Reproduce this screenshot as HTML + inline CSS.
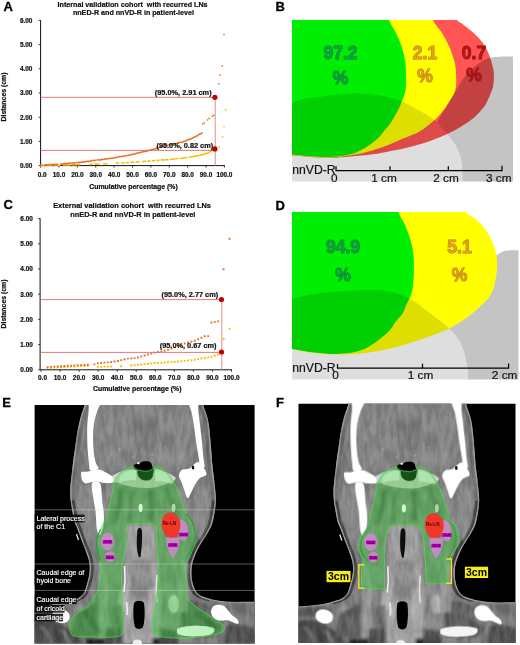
<!DOCTYPE html>
<html lang="en"><head><meta charset="utf-8"><title>Figure</title>
<style>
html,body{margin:0;padding:0;background:#fff;}
body{width:520px;height:645px;overflow:hidden;font-family:"Liberation Sans",sans-serif;}
svg{display:block}
text{font-family:"Liberation Sans",sans-serif;}
.b{font-weight:700}
.pl{font-weight:700;font-size:13px;fill:#000;stroke:#000;stroke-width:.3px}
.tk{font-weight:700;font-size:6.4px;fill:#111;stroke:#111;stroke-width:.22px}
.tt{font-weight:700;font-size:7.15px;fill:#111;stroke:#111;stroke-width:.2px}
.ax{font-weight:700;font-size:6.9px;fill:#111;stroke:#111;stroke-width:.22px}
.an{font-weight:700;font-size:7.35px;fill:#111;stroke:#111;stroke-width:.22px}
.sc{font-size:11.8px;fill:#111;stroke:#111;stroke-width:.18px}
.ct{font-size:7.05px;fill:#fff;stroke:#fff;stroke-width:.15px}
</style></head><body>
<svg width="520" height="645" viewBox="0 0 520 645">
<rect width="520" height="645" fill="#fff"/>

<g>
<text class="pl" x="3.5" y="10.8">A</text>
<text class="tt" style="font-size:7.15px" x="132.6" y="7.2" text-anchor="middle" xml:space="preserve">Internal validation cohort  with recurred LNs</text>
<text class="tt" style="font-size:7.15px" x="133.4" y="15.2" text-anchor="middle">nnED-R and nnVD-R in patient-level</text>
<path d="M40.6,20.100000000000005 V165.6 H224.89999999999998" fill="none" stroke="#111" stroke-width="1"/>
<path d="M38.6,165.60 H40.6" stroke="#111" stroke-width="0.8"/>
<text class="tk" x="32.400000000000006" y="167.90" text-anchor="end">0.00</text>
<path d="M38.6,141.40 H40.6" stroke="#111" stroke-width="0.8"/>
<text class="tk" x="32.400000000000006" y="143.70" text-anchor="end">1.00</text>
<path d="M38.6,117.20 H40.6" stroke="#111" stroke-width="0.8"/>
<text class="tk" x="32.400000000000006" y="119.50" text-anchor="end">2.00</text>
<path d="M38.6,93.00 H40.6" stroke="#111" stroke-width="0.8"/>
<text class="tk" x="32.400000000000006" y="95.30" text-anchor="end">3.00</text>
<path d="M38.6,68.80 H40.6" stroke="#111" stroke-width="0.8"/>
<text class="tk" x="32.400000000000006" y="71.10" text-anchor="end">4.00</text>
<path d="M38.6,44.60 H40.6" stroke="#111" stroke-width="0.8"/>
<text class="tk" x="32.400000000000006" y="46.90" text-anchor="end">5.00</text>
<path d="M38.6,20.40 H40.6" stroke="#111" stroke-width="0.8"/>
<text class="tk" x="32.400000000000006" y="22.70" text-anchor="end">6.00</text>
<path d="M40.60,165.6 V167.6" stroke="#111" stroke-width="0.8"/>
<text class="tk" x="42.10" y="176.9" text-anchor="middle">0.0</text>
<path d="M58.98,165.6 V167.6" stroke="#111" stroke-width="0.8"/>
<text class="tk" x="58.98" y="176.9" text-anchor="middle">10.0</text>
<path d="M77.36,165.6 V167.6" stroke="#111" stroke-width="0.8"/>
<text class="tk" x="77.36" y="176.9" text-anchor="middle">20.0</text>
<path d="M95.74,165.6 V167.6" stroke="#111" stroke-width="0.8"/>
<text class="tk" x="95.74" y="176.9" text-anchor="middle">30.0</text>
<path d="M114.12,165.6 V167.6" stroke="#111" stroke-width="0.8"/>
<text class="tk" x="114.12" y="176.9" text-anchor="middle">40.0</text>
<path d="M132.50,165.6 V167.6" stroke="#111" stroke-width="0.8"/>
<text class="tk" x="132.50" y="176.9" text-anchor="middle">50.0</text>
<path d="M150.88,165.6 V167.6" stroke="#111" stroke-width="0.8"/>
<text class="tk" x="150.88" y="176.9" text-anchor="middle">60.0</text>
<path d="M169.26,165.6 V167.6" stroke="#111" stroke-width="0.8"/>
<text class="tk" x="169.26" y="176.9" text-anchor="middle">70.0</text>
<path d="M187.64,165.6 V167.6" stroke="#111" stroke-width="0.8"/>
<text class="tk" x="187.64" y="176.9" text-anchor="middle">80.0</text>
<path d="M206.02,165.6 V167.6" stroke="#111" stroke-width="0.8"/>
<text class="tk" x="206.02" y="176.9" text-anchor="middle">90.0</text>
<path d="M224.40,165.6 V167.6" stroke="#111" stroke-width="0.8"/>
<text class="tk" x="224.40" y="176.9" text-anchor="middle">100.0</text>
<text class="ax" x="133.5" y="188.8" text-anchor="middle">Cumulative percentage (%)</text>
<text class="ax" transform="translate(6.4,97) rotate(-90)" text-anchor="middle">Distances (cm)</text>
<path d="M40.25,164.71h1.5v1.5h-1.5zM41.15,164.68h1.5v1.5h-1.5zM42.05,164.73h1.5v1.5h-1.5zM42.95,164.70h1.5v1.5h-1.5zM46.55,164.73h1.5v1.5h-1.5zM47.45,164.79h1.5v1.5h-1.5zM48.35,164.61h1.5v1.5h-1.5zM49.25,164.73h1.5v1.5h-1.5zM50.15,164.72h1.5v1.5h-1.5zM51.05,164.69h1.5v1.5h-1.5zM53.75,164.44h1.5v1.5h-1.5zM54.65,164.37h1.5v1.5h-1.5zM55.55,164.35h1.5v1.5h-1.5zM56.45,164.31h1.5v1.5h-1.5zM57.35,164.29h1.5v1.5h-1.5zM58.25,164.39h1.5v1.5h-1.5zM59.15,164.45h1.5v1.5h-1.5zM62.75,164.33h1.5v1.5h-1.5zM63.65,164.20h1.5v1.5h-1.5zM64.55,164.23h1.5v1.5h-1.5zM65.45,164.24h1.5v1.5h-1.5zM66.35,164.01h1.5v1.5h-1.5zM67.25,164.15h1.5v1.5h-1.5zM68.15,164.20h1.5v1.5h-1.5zM69.05,164.14h1.5v1.5h-1.5zM71.75,164.06h1.5v1.5h-1.5zM72.65,163.95h1.5v1.5h-1.5zM73.55,163.84h1.5v1.5h-1.5zM74.45,164.00h1.5v1.5h-1.5zM75.35,163.84h1.5v1.5h-1.5zM76.25,163.95h1.5v1.5h-1.5zM77.15,163.98h1.5v1.5h-1.5zM78.05,163.78h1.5v1.5h-1.5zM78.95,163.76h1.5v1.5h-1.5zM89.75,163.64h1.5v1.5h-1.5zM90.65,163.55h1.5v1.5h-1.5zM91.55,163.36h1.5v1.5h-1.5zM94.25,163.27h1.5v1.5h-1.5zM95.15,163.25h1.5v1.5h-1.5zM96.05,163.46h1.5v1.5h-1.5zM96.95,163.40h1.5v1.5h-1.5zM97.85,163.18h1.5v1.5h-1.5zM103.25,163.15h1.5v1.5h-1.5zM104.15,163.15h1.5v1.5h-1.5zM105.05,163.01h1.5v1.5h-1.5zM105.95,162.87h1.5v1.5h-1.5zM115.85,162.43h1.5v1.5h-1.5zM116.75,162.26h1.5v1.5h-1.5zM117.65,162.18h1.5v1.5h-1.5zM121.25,162.29h1.5v1.5h-1.5zM122.15,162.15h1.5v1.5h-1.5zM123.05,162.07h1.5v1.5h-1.5zM125.75,162.06h1.5v1.5h-1.5zM126.65,161.86h1.5v1.5h-1.5zM127.55,161.95h1.5v1.5h-1.5zM130.25,161.77h1.5v1.5h-1.5zM131.15,161.52h1.5v1.5h-1.5zM132.05,161.46h1.5v1.5h-1.5zM132.95,161.40h1.5v1.5h-1.5zM135.65,161.18h1.5v1.5h-1.5zM136.55,161.21h1.5v1.5h-1.5zM137.45,161.04h1.5v1.5h-1.5zM138.35,161.02h1.5v1.5h-1.5zM141.95,160.66h1.5v1.5h-1.5zM142.85,160.82h1.5v1.5h-1.5zM143.75,160.58h1.5v1.5h-1.5zM144.65,160.54h1.5v1.5h-1.5zM147.35,160.37h1.5v1.5h-1.5zM148.25,160.40h1.5v1.5h-1.5zM149.15,160.18h1.5v1.5h-1.5zM151.85,160.12h1.5v1.5h-1.5zM152.75,159.93h1.5v1.5h-1.5zM153.65,159.87h1.5v1.5h-1.5zM156.35,159.66h1.5v1.5h-1.5zM157.25,159.44h1.5v1.5h-1.5zM158.15,159.49h1.5v1.5h-1.5zM160.85,159.21h1.5v1.5h-1.5zM161.75,159.08h1.5v1.5h-1.5zM162.65,159.25h1.5v1.5h-1.5zM164.45,158.92h1.5v1.5h-1.5zM165.35,158.94h1.5v1.5h-1.5zM166.25,158.95h1.5v1.5h-1.5zM167.15,158.83h1.5v1.5h-1.5zM169.85,158.54h1.5v1.5h-1.5zM170.75,158.50h1.5v1.5h-1.5zM171.65,158.42h1.5v1.5h-1.5zM172.55,158.39h1.5v1.5h-1.5zM174.35,158.00h1.5v1.5h-1.5zM175.25,158.04h1.5v1.5h-1.5zM176.15,157.86h1.5v1.5h-1.5zM177.05,157.77h1.5v1.5h-1.5zM179.75,157.64h1.5v1.5h-1.5zM180.65,157.47h1.5v1.5h-1.5zM181.55,157.39h1.5v1.5h-1.5zM182.45,157.32h1.5v1.5h-1.5zM183.35,157.24h1.5v1.5h-1.5zM184.25,156.96h1.5v1.5h-1.5zM185.15,156.88h1.5v1.5h-1.5zM186.05,156.72h1.5v1.5h-1.5zM188.75,156.32h1.5v1.5h-1.5zM189.65,156.24h1.5v1.5h-1.5zM190.55,156.03h1.5v1.5h-1.5zM191.45,155.92h1.5v1.5h-1.5zM192.35,155.77h1.5v1.5h-1.5zM193.25,155.78h1.5v1.5h-1.5zM194.15,155.57h1.5v1.5h-1.5zM195.05,155.45h1.5v1.5h-1.5zM195.95,155.29h1.5v1.5h-1.5zM196.85,154.91h1.5v1.5h-1.5zM197.75,154.82h1.5v1.5h-1.5zM198.65,154.75h1.5v1.5h-1.5zM199.55,154.54h1.5v1.5h-1.5zM200.45,154.15h1.5v1.5h-1.5zM201.35,153.89h1.5v1.5h-1.5zM202.25,153.73h1.5v1.5h-1.5zM203.15,153.36h1.5v1.5h-1.5zM204.05,153.15h1.5v1.5h-1.5zM204.95,152.84h1.5v1.5h-1.5zM205.85,152.76h1.5v1.5h-1.5zM206.75,152.54h1.5v1.5h-1.5zM207.65,152.02h1.5v1.5h-1.5zM208.55,151.24h1.5v1.5h-1.5zM209.45,150.86h1.5v1.5h-1.5zM210.35,150.29h1.5v1.5h-1.5zM211.25,149.58h1.5v1.5h-1.5zM212.15,149.25h1.5v1.5h-1.5zM213.05,148.72h1.5v1.5h-1.5zM213.95,147.95h1.5v1.5h-1.5zM218.65,146.15h1.5v1.5h-1.5zM221.75,136.15h1.5v1.5h-1.5zM223.25,125.75h1.5v1.5h-1.5zM224.85,109.00h1.5v1.5h-1.5z" fill="#f5bf00"/>
<path d="M40.25,164.48h1.5v1.5h-1.5zM41.15,164.35h1.5v1.5h-1.5zM43.85,164.38h1.5v1.5h-1.5zM44.75,164.09h1.5v1.5h-1.5zM45.65,164.22h1.5v1.5h-1.5zM46.55,164.10h1.5v1.5h-1.5zM47.45,163.92h1.5v1.5h-1.5zM48.35,164.04h1.5v1.5h-1.5zM49.25,163.80h1.5v1.5h-1.5zM50.15,163.90h1.5v1.5h-1.5zM51.05,163.70h1.5v1.5h-1.5zM51.95,163.65h1.5v1.5h-1.5zM52.85,163.72h1.5v1.5h-1.5zM53.75,163.83h1.5v1.5h-1.5zM54.65,163.49h1.5v1.5h-1.5zM55.55,163.47h1.5v1.5h-1.5zM56.45,163.58h1.5v1.5h-1.5zM60.05,163.47h1.5v1.5h-1.5zM60.95,163.25h1.5v1.5h-1.5zM61.85,163.10h1.5v1.5h-1.5zM62.75,163.26h1.5v1.5h-1.5zM63.65,162.82h1.5v1.5h-1.5zM64.55,163.08h1.5v1.5h-1.5zM65.45,162.78h1.5v1.5h-1.5zM66.35,162.65h1.5v1.5h-1.5zM67.25,162.57h1.5v1.5h-1.5zM68.15,162.57h1.5v1.5h-1.5zM69.05,162.70h1.5v1.5h-1.5zM69.95,162.38h1.5v1.5h-1.5zM70.85,162.47h1.5v1.5h-1.5zM71.75,162.42h1.5v1.5h-1.5zM72.65,162.24h1.5v1.5h-1.5zM73.55,162.24h1.5v1.5h-1.5zM74.45,161.98h1.5v1.5h-1.5zM76.25,161.81h1.5v1.5h-1.5zM77.15,161.75h1.5v1.5h-1.5zM78.05,161.83h1.5v1.5h-1.5zM78.95,161.61h1.5v1.5h-1.5zM79.85,161.45h1.5v1.5h-1.5zM80.75,161.45h1.5v1.5h-1.5zM81.65,161.28h1.5v1.5h-1.5zM82.55,161.10h1.5v1.5h-1.5zM83.45,161.19h1.5v1.5h-1.5zM84.35,161.04h1.5v1.5h-1.5zM85.25,160.74h1.5v1.5h-1.5zM86.15,160.76h1.5v1.5h-1.5zM87.05,160.62h1.5v1.5h-1.5zM87.95,160.64h1.5v1.5h-1.5zM88.85,160.46h1.5v1.5h-1.5zM89.75,160.16h1.5v1.5h-1.5zM90.65,160.32h1.5v1.5h-1.5zM91.55,159.85h1.5v1.5h-1.5zM92.45,159.85h1.5v1.5h-1.5zM93.35,159.87h1.5v1.5h-1.5zM94.25,159.50h1.5v1.5h-1.5zM95.15,159.52h1.5v1.5h-1.5zM96.95,159.10h1.5v1.5h-1.5zM97.85,159.23h1.5v1.5h-1.5zM98.75,159.14h1.5v1.5h-1.5zM99.65,158.95h1.5v1.5h-1.5zM100.55,158.95h1.5v1.5h-1.5zM101.45,158.60h1.5v1.5h-1.5zM102.35,158.63h1.5v1.5h-1.5zM103.25,158.47h1.5v1.5h-1.5zM104.15,158.34h1.5v1.5h-1.5zM105.05,158.17h1.5v1.5h-1.5zM105.95,158.20h1.5v1.5h-1.5zM106.85,158.12h1.5v1.5h-1.5zM107.75,157.82h1.5v1.5h-1.5zM108.65,157.77h1.5v1.5h-1.5zM109.55,157.41h1.5v1.5h-1.5zM110.45,157.54h1.5v1.5h-1.5zM111.35,157.40h1.5v1.5h-1.5zM112.25,157.42h1.5v1.5h-1.5zM113.15,157.23h1.5v1.5h-1.5zM114.05,156.89h1.5v1.5h-1.5zM114.95,156.78h1.5v1.5h-1.5zM115.85,156.73h1.5v1.5h-1.5zM116.75,156.31h1.5v1.5h-1.5zM117.65,156.32h1.5v1.5h-1.5zM118.55,156.04h1.5v1.5h-1.5zM119.45,155.86h1.5v1.5h-1.5zM120.35,155.68h1.5v1.5h-1.5zM121.25,155.80h1.5v1.5h-1.5zM122.15,155.38h1.5v1.5h-1.5zM123.05,155.27h1.5v1.5h-1.5zM123.95,155.16h1.5v1.5h-1.5zM124.85,155.19h1.5v1.5h-1.5zM125.75,154.71h1.5v1.5h-1.5zM126.65,154.70h1.5v1.5h-1.5zM127.55,154.58h1.5v1.5h-1.5zM128.45,154.55h1.5v1.5h-1.5zM129.35,154.35h1.5v1.5h-1.5zM130.25,154.15h1.5v1.5h-1.5zM131.15,153.70h1.5v1.5h-1.5zM132.05,153.53h1.5v1.5h-1.5zM132.95,153.29h1.5v1.5h-1.5zM133.85,153.28h1.5v1.5h-1.5zM134.75,153.09h1.5v1.5h-1.5zM135.65,152.55h1.5v1.5h-1.5zM136.55,152.34h1.5v1.5h-1.5zM137.45,152.14h1.5v1.5h-1.5zM138.35,151.92h1.5v1.5h-1.5zM139.25,151.80h1.5v1.5h-1.5zM140.15,151.63h1.5v1.5h-1.5zM141.05,151.28h1.5v1.5h-1.5zM141.95,150.95h1.5v1.5h-1.5zM142.85,150.90h1.5v1.5h-1.5zM143.75,150.66h1.5v1.5h-1.5zM144.65,150.52h1.5v1.5h-1.5zM145.55,150.46h1.5v1.5h-1.5zM146.45,150.13h1.5v1.5h-1.5zM147.35,149.84h1.5v1.5h-1.5zM148.25,149.66h1.5v1.5h-1.5zM149.15,149.47h1.5v1.5h-1.5zM150.05,148.99h1.5v1.5h-1.5zM150.95,149.08h1.5v1.5h-1.5zM151.85,148.78h1.5v1.5h-1.5zM152.75,148.57h1.5v1.5h-1.5zM153.65,148.29h1.5v1.5h-1.5zM154.55,147.88h1.5v1.5h-1.5zM155.45,147.63h1.5v1.5h-1.5zM156.35,147.26h1.5v1.5h-1.5zM157.25,147.23h1.5v1.5h-1.5zM158.15,146.75h1.5v1.5h-1.5zM159.05,146.50h1.5v1.5h-1.5zM159.95,146.31h1.5v1.5h-1.5zM160.85,146.04h1.5v1.5h-1.5zM161.75,145.86h1.5v1.5h-1.5zM162.65,145.50h1.5v1.5h-1.5zM163.55,145.23h1.5v1.5h-1.5zM164.45,145.04h1.5v1.5h-1.5zM165.35,144.77h1.5v1.5h-1.5zM166.25,144.63h1.5v1.5h-1.5zM167.15,144.24h1.5v1.5h-1.5zM168.05,144.33h1.5v1.5h-1.5zM168.95,143.98h1.5v1.5h-1.5zM169.85,143.58h1.5v1.5h-1.5zM170.75,143.44h1.5v1.5h-1.5zM171.65,143.29h1.5v1.5h-1.5zM172.55,143.11h1.5v1.5h-1.5zM173.45,142.83h1.5v1.5h-1.5zM174.35,142.93h1.5v1.5h-1.5zM175.25,142.80h1.5v1.5h-1.5zM176.15,142.40h1.5v1.5h-1.5zM177.05,142.22h1.5v1.5h-1.5zM177.95,141.87h1.5v1.5h-1.5zM178.85,141.69h1.5v1.5h-1.5zM179.75,141.60h1.5v1.5h-1.5zM180.65,141.38h1.5v1.5h-1.5zM181.55,141.42h1.5v1.5h-1.5zM182.45,140.85h1.5v1.5h-1.5zM183.35,140.44h1.5v1.5h-1.5zM184.25,140.47h1.5v1.5h-1.5zM185.15,139.96h1.5v1.5h-1.5zM186.05,139.46h1.5v1.5h-1.5zM186.95,139.27h1.5v1.5h-1.5zM187.85,138.72h1.5v1.5h-1.5zM188.75,138.54h1.5v1.5h-1.5zM189.65,138.33h1.5v1.5h-1.5zM190.55,137.89h1.5v1.5h-1.5zM191.45,137.44h1.5v1.5h-1.5zM192.35,136.88h1.5v1.5h-1.5zM193.25,136.53h1.5v1.5h-1.5zM194.15,136.06h1.5v1.5h-1.5zM195.05,135.79h1.5v1.5h-1.5zM195.95,135.17h1.5v1.5h-1.5zM196.85,134.74h1.5v1.5h-1.5zM197.75,134.03h1.5v1.5h-1.5zM198.65,133.46h1.5v1.5h-1.5zM199.55,133.17h1.5v1.5h-1.5zM200.45,132.71h1.5v1.5h-1.5zM201.35,132.13h1.5v1.5h-1.5zM202.00,123.18h1.5v1.5h-1.5zM203.60,121.93h1.5v1.5h-1.5zM206.80,119.36h1.5v1.5h-1.5zM208.40,117.85h1.5v1.5h-1.5zM211.60,115.62h1.5v1.5h-1.5zM213.20,114.61h1.5v1.5h-1.5zM218.00,83.00h1.5v1.5h-1.5zM219.25,74.25h1.5v1.5h-1.5zM221.50,65.25h1.5v1.5h-1.5zM223.25,33.75h1.5v1.5h-1.5z" fill="#e8722a"/>
<path d="M40.6,97.3 H215.2 M40.6,150.4 H215.2" stroke="#e06a6a" stroke-width="0.9" fill="none"/>
<path d="M215.2,97.3 V165.6" stroke="#e88a8a" stroke-width="1" fill="none"/>
<circle cx="214.89999999999998" cy="97.3" r="2.6" fill="#c00000"/>
<circle cx="214.89999999999998" cy="148.9" r="2.6" fill="#c00000"/>
<text class="an" x="211.6" y="95.4" text-anchor="end">(95.0%, 2.91 cm)</text>
<text class="an" x="213.2" y="147.6" text-anchor="end">(95.0%, 0.82 cm)</text>
</g>
<g>
<text class="pl" x="3.5" y="209.0">C</text>
<text class="tt" style="font-size:7.4px" x="132" y="208.3" text-anchor="middle" xml:space="preserve">External validation cohort  with recurred LNs</text>
<text class="tt" style="font-size:7.4px" x="132.8" y="216.5" text-anchor="middle">nnED-R and nnVD-R in patient-level</text>
<path d="M40.1,218.3 V369.8 H232.0" fill="none" stroke="#111" stroke-width="1"/>
<path d="M38.1,369.80 H40.1" stroke="#111" stroke-width="0.8"/>
<text class="tk" x="32.8" y="372.10" text-anchor="end">0.00</text>
<path d="M38.1,344.60 H40.1" stroke="#111" stroke-width="0.8"/>
<text class="tk" x="32.8" y="346.90" text-anchor="end">1.00</text>
<path d="M38.1,319.40 H40.1" stroke="#111" stroke-width="0.8"/>
<text class="tk" x="32.8" y="321.70" text-anchor="end">2.00</text>
<path d="M38.1,294.20 H40.1" stroke="#111" stroke-width="0.8"/>
<text class="tk" x="32.8" y="296.50" text-anchor="end">3.00</text>
<path d="M38.1,269.00 H40.1" stroke="#111" stroke-width="0.8"/>
<text class="tk" x="32.8" y="271.30" text-anchor="end">4.00</text>
<path d="M38.1,243.80 H40.1" stroke="#111" stroke-width="0.8"/>
<text class="tk" x="32.8" y="246.10" text-anchor="end">5.00</text>
<path d="M38.1,218.60 H40.1" stroke="#111" stroke-width="0.8"/>
<text class="tk" x="32.8" y="220.90" text-anchor="end">6.00</text>
<path d="M41.00,369.8 V371.8" stroke="#111" stroke-width="0.8"/>
<text class="tk" x="42.50" y="379.5" text-anchor="middle">0.0</text>
<path d="M60.05,369.8 V371.8" stroke="#111" stroke-width="0.8"/>
<text class="tk" x="60.05" y="379.5" text-anchor="middle">10.0</text>
<path d="M79.10,369.8 V371.8" stroke="#111" stroke-width="0.8"/>
<text class="tk" x="79.10" y="379.5" text-anchor="middle">20.0</text>
<path d="M98.15,369.8 V371.8" stroke="#111" stroke-width="0.8"/>
<text class="tk" x="98.15" y="379.5" text-anchor="middle">30.0</text>
<path d="M117.20,369.8 V371.8" stroke="#111" stroke-width="0.8"/>
<text class="tk" x="117.20" y="379.5" text-anchor="middle">40.0</text>
<path d="M136.25,369.8 V371.8" stroke="#111" stroke-width="0.8"/>
<text class="tk" x="136.25" y="379.5" text-anchor="middle">50.0</text>
<path d="M155.30,369.8 V371.8" stroke="#111" stroke-width="0.8"/>
<text class="tk" x="155.30" y="379.5" text-anchor="middle">60.0</text>
<path d="M174.35,369.8 V371.8" stroke="#111" stroke-width="0.8"/>
<text class="tk" x="174.35" y="379.5" text-anchor="middle">70.0</text>
<path d="M193.40,369.8 V371.8" stroke="#111" stroke-width="0.8"/>
<text class="tk" x="193.40" y="379.5" text-anchor="middle">80.0</text>
<path d="M212.45,369.8 V371.8" stroke="#111" stroke-width="0.8"/>
<text class="tk" x="212.45" y="379.5" text-anchor="middle">90.0</text>
<path d="M231.50,369.8 V371.8" stroke="#111" stroke-width="0.8"/>
<text class="tk" x="231.50" y="379.5" text-anchor="middle">100.0</text>
<text class="ax" x="137.2" y="390.8" text-anchor="middle">Cumulative percentage (%)</text>
<text class="ax" transform="translate(6.4,304) rotate(-90)" text-anchor="middle">Distances (cm)</text>
<path d="M46.73,367.08h1.9v1.9h-1.9zM50.08,366.88h1.9v1.9h-1.9zM53.42,366.67h1.9v1.9h-1.9zM56.76,366.46h1.9v1.9h-1.9zM60.10,366.25h1.9v1.9h-1.9zM63.44,366.05h1.9v1.9h-1.9zM66.79,365.88h1.9v1.9h-1.9zM70.13,365.71h1.9v1.9h-1.9zM73.47,365.54h1.9v1.9h-1.9zM76.81,365.37h1.9v1.9h-1.9zM80.16,365.20h1.9v1.9h-1.9zM83.50,365.03h1.9v1.9h-1.9zM86.84,364.86h1.9v1.9h-1.9zM96.87,365.79h1.9v1.9h-1.9zM100.21,365.77h1.9v1.9h-1.9zM103.55,365.71h1.9v1.9h-1.9zM106.89,365.64h1.9v1.9h-1.9zM110.23,365.58h1.9v1.9h-1.9zM120.26,365.25h1.9v1.9h-1.9zM130.29,364.59h1.9v1.9h-1.9zM133.63,364.24h1.9v1.9h-1.9zM136.97,363.89h1.9v1.9h-1.9zM140.31,363.53h1.9v1.9h-1.9zM143.66,363.18h1.9v1.9h-1.9zM147.00,362.82h1.9v1.9h-1.9zM150.34,362.47h1.9v1.9h-1.9zM153.68,362.12h1.9v1.9h-1.9zM157.02,361.90h1.9v1.9h-1.9zM160.37,361.73h1.9v1.9h-1.9zM163.71,361.55h1.9v1.9h-1.9zM167.05,361.37h1.9v1.9h-1.9zM170.39,361.20h1.9v1.9h-1.9zM173.73,361.00h1.9v1.9h-1.9zM177.08,360.65h1.9v1.9h-1.9zM180.42,360.30h1.9v1.9h-1.9zM183.76,359.94h1.9v1.9h-1.9zM187.10,359.59h1.9v1.9h-1.9zM190.44,359.23h1.9v1.9h-1.9zM193.79,358.79h1.9v1.9h-1.9zM197.13,358.20h1.9v1.9h-1.9zM200.47,357.61h1.9v1.9h-1.9zM203.81,357.02h1.9v1.9h-1.9zM207.16,356.46h1.9v1.9h-1.9zM210.50,355.91h1.9v1.9h-1.9zM213.84,354.82h1.9v1.9h-1.9zM217.18,353.49h1.9v1.9h-1.9zM222.74,337.85h1.9v1.9h-1.9zM228.55,327.77h1.9v1.9h-1.9z" fill="#f5bf00"/>
<path d="M46.73,366.15h1.9v1.9h-1.9zM50.08,365.93h1.9v1.9h-1.9zM53.42,365.71h1.9v1.9h-1.9zM56.76,365.48h1.9v1.9h-1.9zM60.10,365.26h1.9v1.9h-1.9zM63.44,365.04h1.9v1.9h-1.9zM66.79,364.87h1.9v1.9h-1.9zM70.13,364.70h1.9v1.9h-1.9zM73.47,364.53h1.9v1.9h-1.9zM76.81,364.36h1.9v1.9h-1.9zM80.16,364.19h1.9v1.9h-1.9zM83.50,364.02h1.9v1.9h-1.9zM86.84,363.85h1.9v1.9h-1.9zM93.52,363.39h1.9v1.9h-1.9zM96.87,362.40h1.9v1.9h-1.9zM100.21,362.01h1.9v1.9h-1.9zM103.55,361.70h1.9v1.9h-1.9zM106.89,361.38h1.9v1.9h-1.9zM110.23,361.07h1.9v1.9h-1.9zM113.58,360.54h1.9v1.9h-1.9zM116.92,359.98h1.9v1.9h-1.9zM120.26,359.22h1.9v1.9h-1.9zM123.60,358.34h1.9v1.9h-1.9zM126.94,357.67h1.9v1.9h-1.9zM130.29,357.40h1.9v1.9h-1.9zM133.63,357.14h1.9v1.9h-1.9zM136.97,356.52h1.9v1.9h-1.9zM140.31,355.55h1.9v1.9h-1.9zM143.66,354.57h1.9v1.9h-1.9zM147.00,353.60h1.9v1.9h-1.9zM150.34,352.63h1.9v1.9h-1.9zM153.68,351.66h1.9v1.9h-1.9zM157.02,350.99h1.9v1.9h-1.9zM160.37,350.40h1.9v1.9h-1.9zM163.71,349.81h1.9v1.9h-1.9zM167.05,348.96h1.9v1.9h-1.9zM170.39,347.69h1.9v1.9h-1.9zM173.73,346.42h1.9v1.9h-1.9zM177.08,345.13h1.9v1.9h-1.9zM180.42,343.84h1.9v1.9h-1.9zM183.76,342.55h1.9v1.9h-1.9zM187.10,341.61h1.9v1.9h-1.9zM190.44,340.84h1.9v1.9h-1.9zM193.79,339.78h1.9v1.9h-1.9zM197.13,338.31h1.9v1.9h-1.9zM200.47,336.84h1.9v1.9h-1.9zM203.81,335.36h1.9v1.9h-1.9zM207.16,335.15h1.9v1.9h-1.9zM210.50,321.59h1.9v1.9h-1.9zM213.84,320.91h1.9v1.9h-1.9zM217.18,320.47h1.9v1.9h-1.9zM222.55,268.30h1.9v1.9h-1.9zM228.55,237.81h1.9v1.9h-1.9z" fill="#e8722a"/>
<path d="M41.0,299.6 H221.8 M41.0,352.4 H221.8" stroke="#e06a6a" stroke-width="0.9" fill="none"/>
<path d="M221.8,299.6 V369.8" stroke="#e88a8a" stroke-width="1" fill="none"/>
<circle cx="221.5" cy="299.6" r="2.6" fill="#c00000"/>
<circle cx="221.5" cy="352.0" r="2.6" fill="#c00000"/>
<text class="an" x="218.2" y="297.2" text-anchor="end">(95.0%, 2.77 cm)</text>
<text class="an" x="216.5" y="348.4" text-anchor="end">(95.0%, 0.67 cm)</text>
</g>
<text class="pl" x="275.6" y="10.9">B</text>
<defs>
<clipPath id="clipB"><rect x="292" y="20" width="221" height="161.5"/></clipPath>
<clipPath id="redclipB"><path d="M452.0,10.0 C452.8,11.7 455.4,17.7 457.0,20.0 C458.6,22.3 460.1,22.3 461.8,23.6 C463.5,24.9 465.3,26.3 467.0,27.6 C468.7,28.9 470.3,30.2 472.0,31.6 C473.7,33.0 475.2,34.4 477.0,36.2 C478.8,38.0 480.9,40.4 482.5,42.5 C484.1,44.6 485.3,46.7 486.5,49.0 C487.7,51.3 488.7,53.8 489.7,56.5 C490.7,59.2 491.6,62.2 492.3,65.0 C493.0,67.8 493.6,70.2 493.8,73.0 C494.0,75.8 493.9,79.2 493.6,82.0 C493.3,84.8 493.3,86.4 492.0,90.0 C490.7,93.6 487.9,100.3 486.0,103.8 C484.1,107.3 482.5,108.7 480.5,111.0 C478.5,113.3 476.6,115.4 473.8,117.7 C471.0,120.0 467.1,122.7 463.5,125.0 C459.9,127.3 456.7,129.3 452.3,131.5 C447.9,133.7 442.1,136.2 437.0,138.3 C431.9,140.4 427.2,142.1 421.5,143.8 C415.8,145.5 407.8,147.5 402.5,148.8 C397.2,150.0 395.0,150.3 390.0,151.2 C385.0,152.2 379.2,153.4 372.5,154.3 C365.8,155.2 357.5,155.9 350.0,156.5 C342.5,157.1 337.2,158.0 327.5,157.8 C317.8,157.6 301.6,156.3 292.0,155.3 C282.4,154.3 273.7,152.6 270.0,152.0 L270,10 Z"/></clipPath>
<mask id="dkmB" maskUnits="userSpaceOnUse" x="280" y="0" width="240" height="200"><path d="M462.3,200.0 C462.3,196.9 462.4,186.8 462.3,181.5 C462.2,176.2 462.2,172.2 462.0,168.5 C461.8,164.8 461.5,162.3 460.8,159.2 C460.1,156.1 459.1,153.1 457.7,150.0 C456.3,146.9 454.2,143.6 452.3,140.8 C450.4,138.0 448.1,135.1 446.2,133.0 C444.3,130.9 442.5,129.8 441.0,128.3 C439.5,126.8 437.2,125.6 437.0,123.8 C436.8,122.0 438.5,120.0 440.0,117.3 C441.5,114.6 443.9,111.2 446.0,107.7 C448.1,104.2 450.5,99.8 452.7,96.0 C454.9,92.2 457.2,88.1 459.4,84.6 C461.6,81.1 463.6,77.9 466.0,75.0 C468.4,72.1 470.9,69.7 473.8,67.3 C476.7,64.9 480.6,62.2 483.5,60.6 C486.4,59.0 488.2,58.4 491.0,57.7 C493.8,57.1 496.5,56.9 500.0,56.7 C503.5,56.5 510.0,56.6 512.0,56.6 L530,56.6 L530,200 Z" fill="#fff"/><path d="M270.0,130.0 C272.0,113.9 283.2,109.1 292.0,103.5 C300.8,97.9 312.0,98.2 322.5,96.5 C333.0,94.8 345.4,93.7 355.0,93.5 C364.6,93.3 372.5,94.3 380.0,95.5 C387.5,96.7 394.1,98.6 400.0,100.8 C405.9,103.0 411.0,106.2 415.4,108.5 C419.8,110.8 422.7,112.4 426.2,114.6 C429.7,116.8 432.9,118.7 436.2,121.8 C439.5,124.9 443.5,129.8 446.2,133.0 C448.9,136.2 450.4,138.0 452.3,140.8 C454.2,143.6 456.3,146.9 457.7,150.0 C459.1,153.1 460.1,156.1 460.8,159.2 C461.5,162.3 461.8,164.8 462.0,168.5 C462.2,172.2 462.3,176.2 462.3,181.5 C462.3,186.8 475.7,194.4 462.0,200.0 C448.3,205.6 410.3,215.0 380.0,215.0 C349.7,215.0 298.3,214.2 280.0,200.0 C261.7,185.8 268.0,146.1 270.0,130.0 Z" fill="#000"/></mask>
</defs>
<g clip-path="url(#clipB)">
<path d="M462.3,200.0 C462.3,196.9 462.4,186.8 462.3,181.5 C462.2,176.2 462.2,172.2 462.0,168.5 C461.8,164.8 461.5,162.3 460.8,159.2 C460.1,156.1 459.1,153.1 457.7,150.0 C456.3,146.9 454.2,143.6 452.3,140.8 C450.4,138.0 448.1,135.1 446.2,133.0 C444.3,130.9 442.5,129.8 441.0,128.3 C439.5,126.8 437.2,125.6 437.0,123.8 C436.8,122.0 438.5,120.0 440.0,117.3 C441.5,114.6 443.9,111.2 446.0,107.7 C448.1,104.2 450.5,99.8 452.7,96.0 C454.9,92.2 457.2,88.1 459.4,84.6 C461.6,81.1 463.6,77.9 466.0,75.0 C468.4,72.1 470.9,69.7 473.8,67.3 C476.7,64.9 480.6,62.2 483.5,60.6 C486.4,59.0 488.2,58.4 491.0,57.7 C493.8,57.1 496.5,56.9 500.0,56.7 C503.5,56.5 510.0,56.6 512.0,56.6 L530,56.6 L530,200 Z" fill="#c4c4c4"/>
<path d="M270.0,130.0 C272.0,113.9 283.2,109.1 292.0,103.5 C300.8,97.9 312.0,98.2 322.5,96.5 C333.0,94.8 345.4,93.7 355.0,93.5 C364.6,93.3 372.5,94.3 380.0,95.5 C387.5,96.7 394.1,98.6 400.0,100.8 C405.9,103.0 411.0,106.2 415.4,108.5 C419.8,110.8 422.7,112.4 426.2,114.6 C429.7,116.8 432.9,118.7 436.2,121.8 C439.5,124.9 443.5,129.8 446.2,133.0 C448.9,136.2 450.4,138.0 452.3,140.8 C454.2,143.6 456.3,146.9 457.7,150.0 C459.1,153.1 460.1,156.1 460.8,159.2 C461.5,162.3 461.8,164.8 462.0,168.5 C462.2,172.2 462.3,176.2 462.3,181.5 C462.3,186.8 475.7,194.4 462.0,200.0 C448.3,205.6 410.3,215.0 380.0,215.0 C349.7,215.0 298.3,214.2 280.0,200.0 C261.7,185.8 268.0,146.1 270.0,130.0 Z" fill="#dedede"/>
<path d="M452.0,10.0 C452.8,11.7 455.4,17.7 457.0,20.0 C458.6,22.3 460.1,22.3 461.8,23.6 C463.5,24.9 465.3,26.3 467.0,27.6 C468.7,28.9 470.3,30.2 472.0,31.6 C473.7,33.0 475.2,34.4 477.0,36.2 C478.8,38.0 480.9,40.4 482.5,42.5 C484.1,44.6 485.3,46.7 486.5,49.0 C487.7,51.3 488.7,53.8 489.7,56.5 C490.7,59.2 491.6,62.2 492.3,65.0 C493.0,67.8 493.6,70.2 493.8,73.0 C494.0,75.8 493.9,79.2 493.6,82.0 C493.3,84.8 493.3,86.4 492.0,90.0 C490.7,93.6 487.9,100.3 486.0,103.8 C484.1,107.3 482.5,108.7 480.5,111.0 C478.5,113.3 476.6,115.4 473.8,117.7 C471.0,120.0 467.1,122.7 463.5,125.0 C459.9,127.3 456.7,129.3 452.3,131.5 C447.9,133.7 442.1,136.2 437.0,138.3 C431.9,140.4 427.2,142.1 421.5,143.8 C415.8,145.5 407.8,147.5 402.5,148.8 C397.2,150.0 395.0,150.3 390.0,151.2 C385.0,152.2 379.2,153.4 372.5,154.3 C365.8,155.2 357.5,155.9 350.0,156.5 C342.5,157.1 337.2,158.0 327.5,157.8 C317.8,157.6 301.6,156.3 292.0,155.3 C282.4,154.3 273.7,152.6 270.0,152.0 L270,10 Z" fill="#ff5555"/>
<path d="M433.0,10.0 C433.0,11.7 431.5,16.2 433.0,20.0 C434.5,23.8 439.3,28.7 442.0,33.0 C444.7,37.3 447.0,41.5 449.0,46.0 C451.0,50.5 452.8,55.7 454.0,60.0 C455.2,64.3 455.8,67.0 456.0,72.0 C456.2,77.0 456.6,85.0 455.4,90.0 C454.2,95.0 451.2,98.3 449.0,102.0 C446.8,105.7 444.5,108.9 442.0,112.0 C439.5,115.1 437.5,117.6 433.8,120.8 C430.1,124.0 425.2,128.3 420.0,131.2 C414.8,134.2 407.5,136.6 402.5,138.8 C397.5,140.9 394.2,142.6 390.0,144.2 C385.8,145.9 381.7,147.4 377.5,148.8 C373.3,150.1 370.0,151.3 365.0,152.5 C360.0,153.7 353.8,155.0 347.5,155.8 C341.2,156.6 336.8,157.6 327.5,157.5 C318.2,157.4 301.6,156.0 292.0,155.0 C282.4,154.0 273.7,152.1 270.0,151.5 L270,10 Z" fill="#ffff00"/>
<path d="M389.0,10.0 C389.0,11.7 387.8,16.2 389.0,20.0 C390.2,23.8 393.9,28.7 396.0,33.0 C398.1,37.3 400.0,41.5 401.5,46.0 C403.0,50.5 404.2,55.2 405.0,60.0 C405.8,64.8 405.9,70.0 406.0,75.0 C406.1,80.0 406.4,85.5 405.6,90.0 C404.9,94.5 402.9,98.6 401.5,102.3 C400.1,106.0 398.8,108.5 397.0,112.0 C395.2,115.5 392.7,119.8 390.5,123.0 C388.3,126.2 386.2,128.4 384.0,131.0 C381.8,133.6 380.7,135.9 377.5,138.8 C374.3,141.6 369.2,145.5 365.0,148.0 C360.8,150.5 356.7,152.4 352.5,153.8 C348.3,155.1 344.2,155.8 340.0,156.3 C335.8,156.8 332.5,157.0 327.5,157.0 C322.5,157.0 315.9,156.6 310.0,156.2 C304.1,155.8 298.7,155.4 292.0,154.5 C285.3,153.6 273.7,151.6 270.0,151.0 L270,10 Z" fill="#00ee02"/>
<g clip-path="url(#redclipB)">
<rect x="280" y="0" width="240" height="200" fill="#000" fill-opacity="0.235" mask="url(#dkmB)"/>
<path d="M270.0,130.0 C272.0,113.9 283.2,109.1 292.0,103.5 C300.8,97.9 312.0,98.2 322.5,96.5 C333.0,94.8 345.4,93.7 355.0,93.5 C364.6,93.3 372.5,94.3 380.0,95.5 C387.5,96.7 394.1,98.6 400.0,100.8 C405.9,103.0 411.0,106.2 415.4,108.5 C419.8,110.8 422.7,112.4 426.2,114.6 C429.7,116.8 432.9,118.7 436.2,121.8 C439.5,124.9 443.5,129.8 446.2,133.0 C448.9,136.2 450.4,138.0 452.3,140.8 C454.2,143.6 456.3,146.9 457.7,150.0 C459.1,153.1 460.1,156.1 460.8,159.2 C461.5,162.3 461.8,164.8 462.0,168.5 C462.2,172.2 462.3,176.2 462.3,181.5 C462.3,186.8 475.7,194.4 462.0,200.0 C448.3,205.6 410.3,215.0 380.0,215.0 C349.7,215.0 298.3,214.2 280.0,200.0 C261.7,185.8 268.0,146.1 270.0,130.0 Z" fill="#000" fill-opacity="0.13"/>
</g>
</g>
<text x="340.5" y="58.8" text-anchor="middle" class="b" font-size="17.5" fill="#10a040" stroke="#0a7a32" stroke-width="0.9" paint-order="stroke">97.2</text>
<text x="340.5" y="84" text-anchor="middle" class="b" font-size="17.5" fill="#10a040" stroke="#0a7a32" stroke-width="0.9" paint-order="stroke">%</text>
<text x="425" y="58.8" text-anchor="middle" class="b" font-size="17.5" fill="#e0a020" stroke="#b07808" stroke-width="0.9" paint-order="stroke">2.1</text>
<text x="425" y="81.7" text-anchor="middle" class="b" font-size="17.5" fill="#e0a020" stroke="#b07808" stroke-width="0.9" paint-order="stroke">%</text>
<text x="474" y="58.8" text-anchor="middle" class="b" font-size="17.5" fill="#b01818" stroke="#8c0c0c" stroke-width="0.9" paint-order="stroke">0.7</text>
<text x="474" y="81" text-anchor="middle" class="b" font-size="17.5" fill="#b01818" stroke="#8c0c0c" stroke-width="0.9" paint-order="stroke">%</text>
<path d="M336,166.2 V170.7 H502 V165.8 M390,170.7 V166.2 M448.3,170.7 V166.2" fill="none" stroke="#000" stroke-width="1.25"/>
<text x="292.3" y="174" font-size="12.2" fill="#111" stroke="#111" stroke-width="0.18">nnVD-R</text>
<text class="sc" x="334.3" y="181.9" text-anchor="middle">0</text>
<text class="sc" x="384" y="181.9" text-anchor="middle">1 cm</text>
<text class="sc" x="446" y="181.9" text-anchor="middle">2 cm</text>
<text class="sc" x="498.7" y="181.9" text-anchor="middle">3 cm</text>
<text class="pl" x="275.6" y="209.7">D</text>
<defs>
<clipPath id="clipD"><rect x="292" y="212" width="226.5" height="167.5"/></clipPath>
<clipPath id="yclipD"><path d="M466.0,200.0 C466.0,202.0 464.5,208.9 466.0,212.0 C467.5,215.1 472.2,216.1 475.0,218.5 C477.8,220.9 480.8,223.9 483.0,226.5 C485.2,229.1 486.9,231.4 488.5,234.0 C490.1,236.6 491.1,239.2 492.3,242.0 C493.5,244.8 494.7,247.9 495.5,251.0 C496.3,254.1 496.8,257.2 497.0,260.4 C497.2,263.6 497.3,266.7 497.0,270.0 C496.7,273.3 496.1,276.7 495.4,280.0 C494.7,283.3 494.1,287.1 493.0,290.0 C491.9,292.9 490.7,295.2 489.0,297.5 C487.3,299.8 485.5,301.4 483.0,303.8 C480.5,306.2 477.1,309.4 474.0,312.0 C470.9,314.6 468.7,316.4 464.6,319.2 C460.5,321.9 454.0,326.0 449.2,328.5 C444.4,331.0 440.6,332.2 436.0,334.0 C431.4,335.8 426.7,337.4 421.5,339.2 C416.3,340.9 410.2,342.9 405.0,344.5 C399.8,346.1 395.0,347.3 390.0,348.5 C385.0,349.7 379.2,350.8 375.0,351.5 C370.8,352.2 369.2,352.6 365.0,353.0 C360.8,353.4 355.8,354.0 350.0,354.2 C344.2,354.4 336.7,354.6 330.0,354.3 C323.3,354.0 316.3,353.3 310.0,352.5 C303.7,351.7 298.7,350.3 292.0,349.3 C285.3,348.3 273.7,347.0 270.0,346.5 L270,200 Z"/></clipPath>
</defs>
<g clip-path="url(#clipD)">
<path d="M467.0,400.0 C467.1,396.5 467.9,385.5 467.7,379.0 C467.5,372.5 467.3,366.9 466.0,360.8 C464.7,354.7 462.8,347.7 460.0,342.3 C457.2,336.9 451.4,333.1 449.2,328.5 C447.0,323.9 446.0,320.6 447.0,315.0 C448.0,309.4 451.2,301.7 455.0,295.0 C458.8,288.3 465.0,280.5 470.0,275.0 C475.0,269.5 480.2,265.5 485.0,262.0 C489.8,258.5 495.2,255.8 498.5,254.0 C501.8,252.2 502.4,251.6 504.6,251.0 C506.9,250.4 509.4,250.4 512.0,250.3 C514.6,250.2 518.7,250.2 520.0,250.2 L540,250 L540,400 Z" fill="#c4c4c4"/>
<path d="M262.0,335.0 C262.0,319.2 275.0,311.0 280.0,305.0 C285.0,299.0 286.2,300.8 292.0,299.0 C297.8,297.2 307.0,295.3 315.0,294.0 C323.0,292.7 330.8,292.0 340.0,291.3 C349.2,290.6 361.7,290.0 370.0,290.0 C378.3,290.0 383.2,290.0 390.0,291.5 C396.8,293.0 404.5,295.9 410.8,299.2 C417.1,302.5 421.3,306.6 427.7,311.5 C434.1,316.4 443.8,323.4 449.2,328.5 C454.6,333.6 457.2,336.9 460.0,342.3 C462.8,347.7 464.7,354.7 466.0,360.8 C467.3,366.9 467.5,372.5 467.7,379.0 C467.9,385.5 481.6,394.0 467.0,400.0 C452.4,406.0 411.2,415.0 380.0,415.0 C348.8,415.0 299.7,413.3 280.0,400.0 C260.3,386.7 262.0,350.8 262.0,335.0 Z" fill="#dedede"/>
<path d="M466.0,200.0 C466.0,202.0 464.5,208.9 466.0,212.0 C467.5,215.1 472.2,216.1 475.0,218.5 C477.8,220.9 480.8,223.9 483.0,226.5 C485.2,229.1 486.9,231.4 488.5,234.0 C490.1,236.6 491.1,239.2 492.3,242.0 C493.5,244.8 494.7,247.9 495.5,251.0 C496.3,254.1 496.8,257.2 497.0,260.4 C497.2,263.6 497.3,266.7 497.0,270.0 C496.7,273.3 496.1,276.7 495.4,280.0 C494.7,283.3 494.1,287.1 493.0,290.0 C491.9,292.9 490.7,295.2 489.0,297.5 C487.3,299.8 485.5,301.4 483.0,303.8 C480.5,306.2 477.1,309.4 474.0,312.0 C470.9,314.6 468.7,316.4 464.6,319.2 C460.5,321.9 454.0,326.0 449.2,328.5 C444.4,331.0 440.6,332.2 436.0,334.0 C431.4,335.8 426.7,337.4 421.5,339.2 C416.3,340.9 410.2,342.9 405.0,344.5 C399.8,346.1 395.0,347.3 390.0,348.5 C385.0,349.7 379.2,350.8 375.0,351.5 C370.8,352.2 369.2,352.6 365.0,353.0 C360.8,353.4 355.8,354.0 350.0,354.2 C344.2,354.4 336.7,354.6 330.0,354.3 C323.3,354.0 316.3,353.3 310.0,352.5 C303.7,351.7 298.7,350.3 292.0,349.3 C285.3,348.3 273.7,347.0 270.0,346.5 L270,200 Z" fill="#ffff00"/>
<path d="M398.5,200.0 C398.5,202.0 397.5,208.0 398.5,212.0 C399.5,216.0 402.7,220.0 404.5,224.0 C406.3,228.0 407.9,231.8 409.2,235.8 C410.5,239.8 411.7,243.9 412.5,248.0 C413.3,252.1 413.6,256.2 413.8,260.4 C414.0,264.6 413.9,268.9 413.8,273.0 C413.7,277.1 413.5,281.3 413.0,285.0 C412.5,288.7 412.2,291.6 411.0,295.0 C409.8,298.4 407.4,302.3 406.0,305.4 C404.6,308.5 404.3,311.0 402.5,313.8 C400.7,316.5 397.5,319.3 395.4,322.0 C393.3,324.7 392.8,327.0 390.0,330.0 C387.2,333.0 382.7,336.9 378.5,340.0 C374.3,343.1 369.3,346.7 365.0,348.8 C360.7,350.8 356.7,351.7 352.5,352.5 C348.3,353.3 343.8,353.6 340.0,353.8 C336.2,354.0 335.0,354.2 330.0,353.9 C325.0,353.6 316.3,352.8 310.0,352.0 C303.7,351.2 298.7,350.0 292.0,349.0 C285.3,348.0 273.7,346.5 270.0,346.0 L270,200 Z" fill="#00ee02"/>
<g clip-path="url(#yclipD)"><path d="M262.0,335.0 C262.0,319.2 275.0,311.0 280.0,305.0 C285.0,299.0 286.2,300.8 292.0,299.0 C297.8,297.2 307.0,295.3 315.0,294.0 C323.0,292.7 330.8,292.0 340.0,291.3 C349.2,290.6 361.7,290.0 370.0,290.0 C378.3,290.0 383.2,290.0 390.0,291.5 C396.8,293.0 404.5,295.9 410.8,299.2 C417.1,302.5 421.3,306.6 427.7,311.5 C434.1,316.4 443.8,323.4 449.2,328.5 C454.6,333.6 457.2,336.9 460.0,342.3 C462.8,347.7 464.7,354.7 466.0,360.8 C467.3,366.9 467.5,372.5 467.7,379.0 C467.9,385.5 481.6,394.0 467.0,400.0 C452.4,406.0 411.2,415.0 380.0,415.0 C348.8,415.0 299.7,413.3 280.0,400.0 C260.3,386.7 262.0,350.8 262.0,335.0 Z" fill="#000" fill-opacity="0.13"/></g>
</g>
<text x="343" y="253" text-anchor="middle" class="b" font-size="17.5" fill="#10a040" stroke="#0a7a32" stroke-width="0.9" paint-order="stroke">94.9</text>
<text x="343" y="281" text-anchor="middle" class="b" font-size="17.5" fill="#10a040" stroke="#0a7a32" stroke-width="0.9" paint-order="stroke">%</text>
<text x="459.5" y="253" text-anchor="middle" class="b" font-size="17.5" fill="#e0a020" stroke="#b07808" stroke-width="0.9" paint-order="stroke">5.1</text>
<text x="459.5" y="281" text-anchor="middle" class="b" font-size="17.5" fill="#e0a020" stroke="#b07808" stroke-width="0.9" paint-order="stroke">%</text>
<path d="M337.5,364 V368.2 H508.6 V363.6 M422.5,368.2 V363.8" fill="none" stroke="#000" stroke-width="1.25"/>
<text x="292.3" y="371.6" font-size="12.2" fill="#111" stroke="#111" stroke-width="0.18">nnVD-R</text>
<text class="sc" x="335.5" y="379.4" text-anchor="middle">0</text>
<text class="sc" x="420.5" y="379.4" text-anchor="middle">1 cm</text>
<text class="sc" x="504.6" y="379.4" text-anchor="middle">2 cm</text>
<text class="pl" x="2.3" y="407">E</text>
<text class="pl" x="276" y="407">F</text>
<defs>
<clipPath id="clipE"><rect x="34.6" y="405" width="220" height="238.5"/></clipPath>
<clipPath id="clipF"><rect x="298.5" y="403.8" width="217" height="239.2"/></clipPath>
<filter id="bl0" x="-10%" y="-10%" width="120%" height="120%"><feGaussianBlur stdDeviation="0.45"/></filter>
<filter id="bl1" x="-10%" y="-10%" width="120%" height="120%"><feGaussianBlur stdDeviation="0.7"/></filter>
<filter id="bl2" x="-10%" y="-10%" width="120%" height="120%"><feGaussianBlur stdDeviation="1.4"/></filter>
<filter id="bl3" x="-20%" y="-20%" width="140%" height="140%"><feGaussianBlur stdDeviation="2.5"/></filter>
<filter id="grain" x="0" y="0" width="100%" height="100%" color-interpolation-filters="sRGB"><feTurbulence type="fractalNoise" baseFrequency="0.22 0.06" numOctaves="3" seed="11"/><feColorMatrix type="matrix" values="2.2 0 0 0 -0.6  2.2 0 0 0 -0.6  2.2 0 0 0 -0.6  0 0 0 0 1"/></filter>
</defs>
<g clip-path="url(#clipE)">
<rect x="20" y="396" width="260" height="264" fill="#000"/>
<g filter="url(#bl0)">
<path d="M86.0,396.0 C85.8,397.5 85.6,401.4 84.7,405.0 C83.8,408.6 81.7,413.1 80.5,417.7 C79.3,422.3 78.2,427.6 77.3,432.5 C76.4,437.4 75.9,442.4 75.2,447.3 C74.5,452.2 73.7,457.2 73.1,462.1 C72.5,467.0 71.9,472.3 71.4,476.9 C70.9,481.5 70.3,485.7 70.2,489.6 C70.1,493.5 70.2,496.7 70.6,500.2 C70.9,503.7 71.7,507.3 72.3,510.8 C72.9,514.3 73.4,517.9 74.3,521.0 C75.2,524.1 76.6,526.5 77.8,529.5 C79.0,532.5 80.0,535.9 81.2,539.0 C82.4,542.1 83.5,544.6 84.7,548.0 C86.0,551.4 87.9,556.1 88.7,559.4 C89.5,562.7 89.8,565.2 89.8,568.0 C89.8,570.8 89.5,573.1 89.0,576.0 C88.5,578.9 87.5,582.4 86.6,585.4 C85.7,588.4 85.0,591.5 83.5,593.8 C82.0,596.1 80.1,597.6 77.3,599.0 C74.5,600.4 70.2,601.4 66.7,602.3 C63.2,603.2 61.5,603.8 56.0,604.5 C50.5,605.2 40.0,606.2 34.0,606.6 C28.0,607.0 22.3,606.9 20.0,607.0 L20,660 L280,660 L280.0,602.5 C275.8,602.5 263.4,602.3 255.0,602.3 C246.6,602.3 236.7,602.7 229.6,602.3 C222.5,601.9 217.5,601.0 212.7,600.0 C207.8,599.0 203.5,597.8 200.5,596.0 C197.5,594.2 196.2,592.2 194.8,589.4 C193.4,586.6 192.3,582.9 191.8,579.0 C191.3,575.1 191.3,570.2 191.8,566.3 C192.3,562.4 193.4,559.2 194.8,555.7 C196.2,552.2 198.0,548.5 200.0,545.0 C202.0,541.5 204.6,538.1 206.6,534.6 C208.6,531.1 210.6,528.0 212.0,524.0 C213.4,520.0 214.2,514.8 214.8,510.8 C215.5,506.8 215.8,503.7 215.9,500.2 C216.0,496.7 215.5,493.5 215.2,489.6 C214.8,485.7 214.3,481.1 213.8,476.9 C213.3,472.7 212.8,469.1 212.3,464.2 C211.8,459.3 211.5,452.9 211.0,447.3 C210.5,441.7 210.1,435.3 209.5,430.4 C208.9,425.5 208.5,421.9 207.4,417.7 C206.3,413.5 204.1,408.6 203.2,405.0 C202.3,401.4 202.2,397.5 202.0,396.0 Z" fill="#7c7c7c"/>
</g>
<g filter="url(#bl1)" fill="none">
<path d="M87.9,405.0 C87.2,407.1 84.9,413.1 83.7,417.7 C82.5,422.3 81.4,427.6 80.5,432.5 C79.6,437.4 79.1,442.4 78.4,447.3 C77.7,452.2 76.9,457.2 76.3,462.1 C75.7,467.0 75.1,472.3 74.6,476.9 C74.1,481.5 73.5,485.7 73.4,489.6 C73.3,493.5 73.7,498.4 73.8,500.2" stroke="#686868" stroke-width="3.2"/>
<path d="M73.2,500.2 C73.5,502.0 74.3,507.3 74.9,510.8 C75.5,514.3 76.0,517.9 76.9,521.0 C77.8,524.1 79.2,526.5 80.4,529.5 C81.5,532.5 82.6,535.9 83.8,539.0 C85.0,542.1 86.0,544.6 87.3,548.0 C88.5,551.4 90.5,556.1 91.3,559.4 C92.1,562.7 92.3,565.2 92.4,568.0 C92.4,570.8 92.1,573.1 91.6,576.0 C91.1,578.9 90.1,582.4 89.2,585.4 C88.3,588.4 87.6,591.5 86.1,593.8 C84.5,596.1 82.7,597.6 79.9,599.0 C77.1,600.4 71.1,601.8 69.3,602.3" stroke="#3c3c3c" stroke-width="3"/>
<path d="M212.7,500.2 C212.6,498.4 212.3,493.5 212.0,489.6 C211.7,485.7 211.1,481.1 210.6,476.9 C210.1,472.7 209.6,469.1 209.1,464.2 C208.6,459.3 208.3,452.9 207.8,447.3 C207.3,441.7 206.9,435.3 206.3,430.4 C205.7,425.5 205.3,421.9 204.2,417.7 C203.2,413.5 200.7,407.1 200.0,405.0" stroke="#686868" stroke-width="3.2"/>
<path d="M209.7,600.0 C207.7,599.3 200.5,597.8 197.5,596.0 C194.5,594.2 193.2,592.2 191.8,589.4 C190.4,586.6 189.3,582.9 188.8,579.0 C188.3,575.1 188.3,570.2 188.8,566.3 C189.3,562.4 190.4,559.2 191.8,555.7 C193.2,552.2 195.0,548.5 197.0,545.0 C199.0,541.5 201.6,538.1 203.6,534.6 C205.6,531.1 207.6,528.0 209.0,524.0 C210.4,520.0 211.2,514.8 211.8,510.8 C212.5,506.8 212.7,502.0 212.9,500.2" stroke="#3c3c3c" stroke-width="3"/>
<path d="M86.6,396.0 C86.4,397.5 86.2,401.4 85.3,405.0 C84.4,408.6 82.3,413.1 81.1,417.7 C79.9,422.3 78.8,427.6 77.9,432.5 C77.0,437.4 76.5,442.4 75.8,447.3 C75.1,452.2 74.3,457.2 73.7,462.1 C73.1,467.0 72.5,472.3 72.0,476.9 C71.5,481.5 70.9,485.7 70.8,489.6 C70.7,493.5 70.8,496.7 71.2,500.2 C71.5,503.7 72.3,507.3 72.9,510.8 C73.5,514.3 74.0,517.9 74.9,521.0 C75.8,524.1 77.2,526.5 78.4,529.5 C79.5,532.5 80.6,535.9 81.8,539.0 C83.0,542.1 84.0,544.6 85.3,548.0 C86.5,551.4 88.5,556.1 89.3,559.4 C90.1,562.7 90.3,565.2 90.4,568.0 C90.4,570.8 90.1,573.1 89.6,576.0 C89.1,578.9 88.1,582.4 87.2,585.4 C86.3,588.4 85.6,591.5 84.1,593.8 C82.5,596.1 80.7,597.6 77.9,599.0 C75.1,600.4 70.8,601.4 67.3,602.3 C63.8,603.2 62.0,603.8 56.6,604.5 C51.2,605.2 40.6,606.2 34.6,606.6 C28.6,607.0 22.9,606.9 20.6,607.0" stroke="#a2a2a2" stroke-width="1.1"/>
<path d="M279.4,602.5 C275.2,602.5 262.8,602.3 254.4,602.3 C246.0,602.3 236.1,602.7 229.0,602.3 C221.9,601.9 216.9,601.0 212.1,600.0 C207.2,599.0 202.9,597.8 199.9,596.0 C196.9,594.2 195.7,592.2 194.2,589.4 C192.8,586.6 191.7,582.9 191.2,579.0 C190.7,575.1 190.7,570.2 191.2,566.3 C191.7,562.4 192.8,559.2 194.2,555.7 C195.6,552.2 197.4,548.5 199.4,545.0 C201.4,541.5 204.0,538.1 206.0,534.6 C208.0,531.1 210.0,528.0 211.4,524.0 C212.8,520.0 213.6,514.8 214.2,510.8 C214.9,506.8 215.2,503.7 215.3,500.2 C215.4,496.7 214.9,493.5 214.6,489.6 C214.2,485.7 213.7,481.1 213.2,476.9 C212.7,472.7 212.2,469.1 211.7,464.2 C211.2,459.3 210.9,452.9 210.4,447.3 C209.9,441.7 209.5,435.3 208.9,430.4 C208.3,425.5 207.9,421.9 206.8,417.7 C205.8,413.5 203.5,408.6 202.6,405.0 C201.7,401.4 201.6,397.5 201.4,396.0" stroke="#a2a2a2" stroke-width="1.1"/>
</g>
<g filter="url(#bl2)">
<path d="M79,486 C84,484 90,486 93,490 L96,520 C95,532 92,540 90,546 C85,536 79,520 77,505 Z" fill="#8a8a8a"/>
<path d="M207,486 C202,484 196,488 193,496 L190,520 C192,532 196,538 200,540 C205,530 210,515 211,500 Z" fill="#8a8a8a"/>
<path d="M100,486 C105,484 110,485 113,488 C112,500 108,512 105,522 L102,522 Z" fill="#5c5c5c"/>
<path d="M176,486 C180,492 184,500 188,504 C186,512 184,518 183,522 C179,512 176,498 176,486 Z" fill="#666"/>
<path d="M104,486 L120,482 L170,482 L186,492 L196,522 L186,560 L187,598 L200,644 L85,644 L100,600 L101,560 L92,522 Z" fill="#868686"/>
<path d="M127,525 L156,525 L158,560 L160,600 L160,644 L124,644 L123,600 L125,560 Z" fill="#a2a2a2"/>
<path d="M131,560 L152,560 L153,600 L130,600 Z" fill="#8c8c8c"/>
<path d="M119,592 C122,588 128,588 130,592 L130,628 C127,632 121,632 118,628 Z" fill="#b0b0b0"/>
<path d="M148,590 C151,586 158,586 160,590 L160,626 C157,630 150,630 148,626 Z" fill="#b0b0b0"/>
<ellipse cx="173.7" cy="604" rx="6" ry="9.5" fill="#b4b4b4"/>
<path d="M183,602 C192,598 204,602 210,608 C208,618 200,624 190,622 C184,618 182,610 183,602 Z" fill="#5a5a5a"/>
<path d="M103,560 C108,580 110,600 104,640 L96,640 C100,610 100,585 97,565 Z" fill="#9a9a9a"/>
<path d="M183,560 C178,580 176,600 182,640 L190,640 C186,610 186,585 189,565 Z" fill="#9a9a9a"/>
<path d="M34,622 C50,614 62,626 74,632 C80,636 82,640 84,644 L34,644 Z" fill="#444"/>
<path d="M40,626 C46,630 50,636 52,644 M62,630 C66,634 68,640 69,644" stroke="#7a7a7a" stroke-width="3" fill="none"/>
<path d="M34,608 L60,606 L70,609 L56,616 L34,616 Z" fill="#555"/>
<path d="M74,606 C82,603 90,606 96,612 C92,622 86,628 80,630 C76,622 72,612 74,606 Z" fill="#909090"/>
<path d="M228,604 L255,604 L255,618 C245,612 235,612 228,608 Z" fill="#707070"/>
<path d="M200,604 C210,610 214,624 206,634 L196,640 C190,630 192,612 200,604 Z" fill="#6a6a6a"/>
<path d="M226,626 C238,622 250,626 256,630 L256,644 L224,644 Z" fill="#4e4e4e"/>
<path d="M76,613 L97,603 L98,637 L72,636 Z" fill="#5c5c5c"/>
<path d="M112,606 L122,604 L123,636 L112,637 Z" fill="#686868"/>
<path d="M180,612 C192,610 208,618 222,627 L214,637 L182,637 Z" fill="#585858"/>
<path d="M86,638 L112,638 L112,646 L86,646 Z" fill="#1c1c1c"/>
<path d="M152,638 L178,638 L178,646 L152,646 Z" fill="#1c1c1c"/>
<path d="M106,628 L122,628 L122,644 L104,644 Z" fill="#505050"/>
<path d="M160,628 L176,630 L178,644 L160,644 Z" fill="#505050"/>
</g>
<path d="M101.0,396.0 C85.8,398.7 97.8,407.0 96.5,412.0 C95.2,417.0 93.8,420.3 93.2,426.2 C92.7,432.1 92.9,441.3 93.2,447.3 C93.5,453.3 94.4,458.6 95.3,462.1 C96.2,465.6 96.9,466.9 98.5,468.5 C100.1,470.1 101.3,471.2 104.8,471.6 C108.3,472.0 115.7,471.5 119.6,470.6 C123.5,469.7 125.6,467.5 128.1,466.3 C130.6,465.1 131.6,464.1 134.4,463.2 C137.2,462.3 141.8,460.8 145.0,461.0 C148.2,461.2 150.3,462.6 153.5,464.2 C156.7,465.8 160.1,469.4 164.0,470.6 C167.9,471.8 172.8,472.3 176.7,471.6 C180.6,470.9 184.1,468.2 187.3,466.3 C190.5,464.4 194.0,462.5 195.8,460.0 C197.6,457.5 197.7,454.3 197.9,451.5 C198.1,448.7 197.4,447.2 196.8,443.0 C196.2,438.8 195.3,431.4 194.5,426.2 C193.7,421.0 193.1,417.0 192.0,412.0 C190.9,407.0 203.2,398.7 188.0,396.0 C172.8,393.3 116.2,393.3 101.0,396.0 Z" fill="#858585" filter="url(#bl1)"/>
<g filter="url(#bl3)"><path d="M133,418 C140,425 150,425 157,418 C162,430 160,445 152,452 C148,448 142,448 138,452 C130,445 128,430 133,418 Z" fill="#747474" fill-opacity="0.7"/></g>
<g filter="url(#bl0)" fill="#a8a8a8"><circle cx="119.6" cy="449" r="0.9"/><circle cx="133.5" cy="457" r="0.9"/><circle cx="152" cy="455" r="0.9"/><circle cx="165" cy="447" r="0.8"/></g>
<g filter="url(#bl2)" opacity="0.35" fill="none">
<path d="M104,415 C112,430 108,450 115,462 M130,410 C128,430 136,445 133,458 M160,410 C163,430 156,445 160,460 M182,415 C178,432 186,448 180,462" stroke="#a0a0a0" stroke-width="3"/>
<path d="M118,412 C120,430 122,445 124,460 M146,408 C145,425 147,440 146,455 M172,412 C170,430 172,445 170,462" stroke="#7e7e7e" stroke-width="3"/>
</g>
<clipPath id="bc0"><path d="M86.0,396.0 C85.8,397.5 85.6,401.4 84.7,405.0 C83.8,408.6 81.7,413.1 80.5,417.7 C79.3,422.3 78.2,427.6 77.3,432.5 C76.4,437.4 75.9,442.4 75.2,447.3 C74.5,452.2 73.7,457.2 73.1,462.1 C72.5,467.0 71.9,472.3 71.4,476.9 C70.9,481.5 70.3,485.7 70.2,489.6 C70.1,493.5 70.2,496.7 70.6,500.2 C70.9,503.7 71.7,507.3 72.3,510.8 C72.9,514.3 73.4,517.9 74.3,521.0 C75.2,524.1 76.6,526.5 77.8,529.5 C79.0,532.5 80.0,535.9 81.2,539.0 C82.4,542.1 83.5,544.6 84.7,548.0 C86.0,551.4 87.9,556.1 88.7,559.4 C89.5,562.7 89.8,565.2 89.8,568.0 C89.8,570.8 89.5,573.1 89.0,576.0 C88.5,578.9 87.5,582.4 86.6,585.4 C85.7,588.4 85.0,591.5 83.5,593.8 C82.0,596.1 80.1,597.6 77.3,599.0 C74.5,600.4 70.2,601.4 66.7,602.3 C63.2,603.2 61.5,603.8 56.0,604.5 C50.5,605.2 40.0,606.2 34.0,606.6 C28.0,607.0 22.3,606.9 20.0,607.0 L20,660 L280,660 L280.0,602.5 C275.8,602.5 263.4,602.3 255.0,602.3 C246.6,602.3 236.7,602.7 229.6,602.3 C222.5,601.9 217.5,601.0 212.7,600.0 C207.8,599.0 203.5,597.8 200.5,596.0 C197.5,594.2 196.2,592.2 194.8,589.4 C193.4,586.6 192.3,582.9 191.8,579.0 C191.3,575.1 191.3,570.2 191.8,566.3 C192.3,562.4 193.4,559.2 194.8,555.7 C196.2,552.2 198.0,548.5 200.0,545.0 C202.0,541.5 204.6,538.1 206.6,534.6 C208.6,531.1 210.6,528.0 212.0,524.0 C213.4,520.0 214.2,514.8 214.8,510.8 C215.5,506.8 215.8,503.7 215.9,500.2 C216.0,496.7 215.5,493.5 215.2,489.6 C214.8,485.7 214.3,481.1 213.8,476.9 C213.3,472.7 212.8,469.1 212.3,464.2 C211.8,459.3 211.5,452.9 211.0,447.3 C210.5,441.7 210.1,435.3 209.5,430.4 C208.9,425.5 208.5,421.9 207.4,417.7 C206.3,413.5 204.1,408.6 203.2,405.0 C202.3,401.4 202.2,397.5 202.0,396.0 Z"/></clipPath>
<g clip-path="url(#bc0)"><rect x="20" y="396" width="260" height="264" filter="url(#grain)" opacity="0.085"/></g>
<g filter="url(#bl0)" fill="#fff">
<path d="M90.2,398.0 C88.0,400.3 89.1,407.3 88.6,412.0 C88.1,416.7 87.4,420.3 87.2,426.2 C87.0,432.1 87.2,441.3 87.5,447.3 C87.8,453.3 88.4,458.2 88.9,462.1 C89.4,466.0 88.8,469.5 90.4,470.6 C92.0,471.7 97.7,469.9 98.5,468.5 C99.3,467.1 96.3,465.6 95.5,462.1 C94.7,458.6 93.7,453.3 93.4,447.3 C93.1,441.3 93.0,432.1 93.6,426.2 C94.2,420.3 95.6,416.7 97.0,412.0 C98.4,407.3 103.1,400.3 102.0,398.0 C100.9,395.7 92.4,395.7 90.2,398.0 Z"/>
<path d="M187.5,398.0 C186.6,400.3 190.4,407.3 191.5,412.0 C192.6,416.7 193.2,421.0 194.0,426.2 C194.8,431.4 195.5,437.7 196.3,443.0 C197.1,448.3 198.2,454.1 198.8,457.9 C199.4,461.7 199.1,464.5 200.0,466.0 C200.9,467.5 203.9,468.4 204.5,467.0 C205.1,465.6 203.8,461.9 203.4,457.9 C203.0,453.9 202.6,448.3 202.1,443.0 C201.6,437.7 200.8,431.4 200.2,426.2 C199.6,421.0 199.0,416.7 198.5,412.0 C198.0,407.3 198.8,400.3 197.0,398.0 C195.2,395.7 188.4,395.7 187.5,398.0 Z"/>
<path d="M81.1,474.0 C81.1,472.6 80.8,472.2 82.0,471.8 C83.2,471.4 85.3,471.9 88.0,471.5 C90.7,471.1 95.0,469.3 98.0,469.5 C101.0,469.7 103.3,471.1 106.0,472.5 C108.7,473.9 113.1,476.3 114.3,478.0 C115.5,479.7 114.5,481.7 113.0,482.5 C111.5,483.3 107.7,483.2 105.0,483.0 C102.3,482.8 99.5,481.6 97.0,481.5 C94.5,481.4 92.0,482.2 90.0,482.5 C88.0,482.8 86.3,483.7 85.0,483.3 C83.7,482.9 82.7,481.6 82.0,480.0 C81.3,478.4 81.1,475.4 81.1,474.0 Z"/>
<path d="M92.0,483.5 C93.1,480.8 98.5,480.4 100.2,483.5 C101.9,486.6 101.7,497.2 102.3,502.0 C102.9,506.8 103.5,508.3 103.7,512.0 C104.0,515.7 104.1,520.8 103.8,524.0 C103.5,527.2 102.8,529.2 102.0,531.0 C101.2,532.8 100.2,535.3 99.3,535.0 C98.4,534.7 97.4,532.8 96.8,529.0 C96.2,525.2 96.1,516.8 95.6,512.0 C95.1,507.2 94.2,504.8 93.6,500.0 C93.0,495.2 90.9,486.2 92.0,483.5 Z"/>
<path d="M179.0,474.5 C179.4,473.1 180.3,470.8 182.0,469.8 C183.7,468.8 186.8,469.8 189.4,468.5 C192.1,467.2 195.4,462.1 197.9,462.1 C200.4,462.1 202.8,466.4 204.2,468.5 C205.6,470.6 207.0,473.2 206.3,474.8 C205.6,476.4 201.8,476.6 200.0,478.0 C198.2,479.4 197.4,480.7 195.8,483.3 C194.2,485.9 191.9,491.4 190.5,493.9 C189.1,496.3 188.4,498.7 187.3,498.0 C186.2,497.3 185.1,492.2 184.1,489.6 C183.1,487.0 182.3,484.1 181.5,482.2 C180.7,480.3 179.9,479.3 179.5,478.0 C179.1,476.7 178.6,475.9 179.0,474.5 Z"/>
<path d="M112,476 C122,470 130,468 136,470 L136,480 C128,480 120,482 114,483 Z" fill="#d6d6d6"/>
<path d="M155,470 C162,470 170,473 176,478 L172,484 C166,482 160,481 155,481 Z" fill="#d6d6d6"/>
<ellipse cx="61" cy="616" rx="9" ry="7" transform="rotate(15 61 616)"/>
<path d="M211,612 C211,605 218,603 224,606 C228,609 229,613 233,616 C237,618 240,622 238,624 C233,623 230,620 226,620 C220,622 212,620 211,612 Z"/>
<path d="M177,629 C185,625 205,625 214,628 C216,632 212,636 200,636 C190,637 180,636 177,633 Z" fill="#f4f4f4"/>
<path d="M133,641 C136,639 140,639 142,642 L142,646 L133,646 Z" fill="#eee"/>
</g>
<ellipse cx="193" cy="467.5" rx="1.3" ry="2" fill="#111"/>
<path d="M133.8,466.5 C133.8,463.5 137.5,463 139.5,464.5 C140,461.5 144,461 147,461.3 C150,461.3 152,463 152,466 C154,469 153.8,472 152.8,474 C153.3,477.5 151,480.2 146,480.2 C141,480.5 137.3,478 137.5,473.5 C137.3,472 137.5,471 138,470.3 C135.5,470.3 133.8,468.8 133.8,466.5 Z" fill="#000" filter="url(#bl0)"/>
<circle cx="138.3" cy="463.2" r="1.1" fill="#f4f4f4" filter="url(#bl0)"/>
<path d="M137.5,530 C139,527 141,527 142,531 C142.5,540 141.5,550 140.5,557 C139.5,558 138.5,557 138,554 C136.5,548 136.5,538 137.5,530 Z" fill="#0a0a0a" filter="url(#bl1)"/>
<path d="M134,603 C136,600 142,600 144,603 C145,610 145,621 143,627 C141,629.5 137,629.5 135,627 C133,619 133,609 134,603 Z" fill="#050505" filter="url(#bl0)"/>
<g filter="url(#bl0)" fill="none">
<path d="M124.5,566 C125.5,575 125,585 124,592" stroke="#f0f0f0" stroke-width="1.6"/>
<path d="M157,575 C156,585 156,595 157,602" stroke="#e0e0e0" stroke-width="1.6"/>
<path d="M126.5,602 C127.5,607 127.5,611 127,615" stroke="#e8e8e8" stroke-width="1.8"/>
<path d="M76.5,534 L78.5,540" stroke="#eee" stroke-width="1.2"/>
</g>
<path d="M146.2,471.3 C148.4,471.2 150.6,470.2 152.0,469.4 C153.4,468.6 153.5,466.9 154.8,466.5 C156.1,466.1 157.8,466.2 159.6,467.0 C161.4,467.8 163.6,469.4 165.4,471.0 C167.2,472.6 168.7,474.2 170.3,476.5 C171.9,478.8 173.5,481.4 175.0,484.5 C176.5,487.6 178.2,491.2 179.5,495.0 C180.8,498.8 181.8,503.7 183.0,507.0 C184.2,510.3 185.1,512.5 186.5,515.0 C187.9,517.5 190.1,519.5 191.5,522.0 C192.9,524.5 194.3,527.3 195.0,530.0 C195.7,532.7 195.6,535.2 195.4,538.0 C195.2,540.8 194.6,543.8 193.6,547.0 C192.6,550.2 190.9,553.8 189.5,557.0 C188.1,560.2 185.8,563.0 185.2,566.3 C184.6,569.6 185.6,573.5 185.8,577.0 C186.0,580.5 186.1,584.0 186.3,587.5 C186.6,591.0 185.7,594.8 187.3,598.0 C188.9,601.2 192.3,603.7 195.8,606.5 C199.3,609.3 204.3,612.2 208.5,615.0 C212.7,617.8 218.6,621.1 221.2,623.4 C223.8,625.7 225.0,626.9 224.3,628.7 C223.6,630.5 223.1,632.4 216.9,634.0 C210.7,635.6 197.2,637.9 187.3,638.2 C177.4,638.6 163.5,637.5 157.7,636.1 C151.9,634.7 152.9,634.4 152.4,629.8 C151.9,625.2 153.6,615.6 154.5,608.6 C155.4,601.6 157.0,594.5 157.7,587.5 C158.4,580.5 159.0,573.3 158.8,566.3 C158.6,559.2 157.0,551.2 156.6,545.2 C156.2,539.2 156.9,533.4 156.3,530.0 C155.7,526.6 155.6,525.7 153.0,524.6 C150.4,523.5 145.0,523.6 141.0,523.6 C137.0,523.6 131.5,523.5 129.0,524.6 C126.5,525.7 126.5,526.6 126.0,530.0 C125.5,533.4 126.7,539.0 126.0,545.0 C125.3,551.0 122.8,560.3 122.0,566.0 C121.2,571.7 121.4,572.0 121.5,579.0 C121.6,586.0 122.2,600.6 122.5,608.0 C122.8,615.4 124.0,618.8 123.5,623.5 C123.0,628.2 124.7,633.8 119.6,636.0 C114.5,638.2 100.5,637.1 92.7,637.0 C84.9,636.9 76.8,637.2 73.0,635.5 C69.2,633.8 70.3,629.0 69.9,626.5 C69.5,624.0 69.5,622.6 70.5,620.5 C71.5,618.4 73.2,616.4 76.0,614.0 C78.8,611.6 84.4,608.8 87.5,606.0 C90.6,603.2 92.7,600.3 94.6,597.0 C96.5,593.7 98.0,589.7 99.0,586.0 C100.0,582.3 100.4,578.2 100.7,575.0 C101.0,571.8 101.0,569.4 100.8,567.0 C100.6,564.6 100.1,562.4 99.6,560.4 C99.1,558.4 98.3,557.1 97.8,555.0 C97.3,552.9 96.7,550.5 96.5,548.0 C96.3,545.5 96.4,542.8 96.9,540.0 C97.5,537.2 98.7,534.3 99.8,531.5 C100.9,528.7 102.3,525.8 103.5,523.0 C104.7,520.2 106.0,518.2 107.0,515.0 C108.0,511.8 108.9,507.3 109.8,503.5 C110.7,499.7 111.5,495.6 112.3,492.0 C113.0,488.4 113.3,484.9 114.3,482.0 C115.3,479.1 116.5,476.6 118.3,474.5 C120.1,472.4 122.8,470.8 125.0,469.5 C127.2,468.2 129.9,467.2 131.7,467.0 C133.5,466.8 134.5,468.0 135.6,468.5 C136.7,469.0 136.7,469.5 138.5,470.0 C140.3,470.5 143.9,471.4 146.2,471.3 Z" fill="#34cc34" fill-opacity="0.4" stroke="#4fdc4f" stroke-width="0.9" stroke-opacity="0.85"/>
<g transform="translate(0,0)">
<path d="M120,476 C126,471 132,468.5 137,470.5 C137,477 142,481.5 148,481 C152.5,480 154,474 155,468 C161,468 167,473 171.5,481 C166,485 158,487.5 149,488 C139,488 128,487 118,483 Z" fill="#c8f5c8" fill-opacity="0.5" filter="url(#bl1)"/>
<ellipse cx="140.6" cy="507.9" rx="2" ry="4.1" fill="#d6ffd6"/>
<ellipse cx="173.5" cy="507.9" rx="1.9" ry="4.1" fill="#d6ffd6"/>
<g filter="url(#bl2)" fill="none" stroke="#1e5a1e" stroke-opacity="0.32">
<path d="M122,488 C120,500 118,512 114,524" stroke-width="5"/>
<path d="M150,490 C152,500 152,510 150,520" stroke-width="6"/>
<path d="M166,486 C170,498 172,506 176,514" stroke-width="4"/>
<path d="M132,490 C131,500 131,510 130,520" stroke-width="3"/>
</g>
<path d="M177,629 C185,625 205,625 214,628 C216,632 212,636 200,636 C190,637 180,636 177,633 Z" fill="#d8ffd8" fill-opacity="0.5"/>
<ellipse cx="173.7" cy="604" rx="5.5" ry="9" fill="#b6f0b6" fill-opacity="0.4" filter="url(#bl1)"/>
<g filter="url(#bl2)" fill="none" stroke="#1e5a1e" stroke-opacity="0.3">
<path d="M196,612 C204,618 212,624 218,628" stroke-width="6"/>
<path d="M84,612 C90,620 96,628 100,634" stroke-width="6"/>
</g>
</g>
<g fill="none" stroke="#1f8f2f" stroke-width="1.3" stroke-opacity="0.75" filter="url(#bl0)">
<path d="M186,514 C191,518 194.5,525 195.3,534 C195.5,542 192,550 188,556"/>
<path d="M100.5,529.5 C97,535 96,543 96.8,549 C97.5,554 99,558 100.5,561"/>
</g>
<g transform="translate(0,0)">
<g fill="#c98bc9" fill-opacity="0.92">
<ellipse cx="107.5" cy="541.5" rx="6.6" ry="9"/>
<ellipse cx="110" cy="556.5" rx="5.2" ry="5.2"/>
<path d="M179,520 C183,519 186.5,522 187.8,527 C188.6,532 188,537 185.5,540.5 C183,541.5 180,540 178.5,537 Z"/>
<path d="M166,537.5 C170,536.5 177,536.5 179.5,538.5 C180,546 177,553 173.5,557.5 C170.5,557 166.5,548 166,537.5 Z"/>
</g>
<path d="M162.0,520.8 C162.2,519.7 163.7,516.4 164.3,515.7 C164.9,515.0 167.1,513.1 168.0,512.9 C168.9,512.7 172.7,513.5 173.6,513.8 C174.5,514.1 176.7,515.5 177.3,516.2 C177.9,516.9 179.4,519.8 179.7,520.8 C180.0,521.8 180.2,526.2 180.1,527.3 C180.0,528.4 178.7,532.0 178.3,532.9 C177.9,533.8 176.9,536.7 175.9,537.1 C174.9,537.5 168.2,537.5 167.1,537.1 C166.0,536.7 164.8,533.8 164.3,532.9 C163.8,532.0 162.2,528.4 162.0,527.3 C161.8,526.2 161.8,521.9 162.0,520.8 Z" fill="#f0382a" stroke="#e03020" stroke-width="0.4"/>
<rect x="102.7" y="540" width="9.6" height="3.8" fill="#c400c4"/>
<text x="107.5" y="543.1" text-anchor="middle" class="b" font-size="3.4" fill="#4a004a">OLN</text>
<rect x="105.6" y="555.4" width="8.6" height="3.8" fill="#c400c4"/>
<text x="109.89999999999999" y="558.5" text-anchor="middle" class="b" font-size="3.4" fill="#4a004a">OLN</text>
<rect x="178.7" y="532.7" width="9.6" height="3.8" fill="#c400c4"/>
<text x="183.5" y="535.8000000000001" text-anchor="middle" class="b" font-size="3.4" fill="#4a004a">OLN</text>
<rect x="168" y="543.3" width="9.7" height="3.8" fill="#c400c4"/>
<text x="172.85" y="546.4" text-anchor="middle" class="b" font-size="3.4" fill="#4a004a">OLN</text>
<text x="169.4" y="525.3" text-anchor="middle" class="b" font-size="4.6" fill="#5a0000">Re-LN</text>
</g>
<path d="M34.6,509.8 H254.6" stroke="#d8d8d8" stroke-opacity="0.6" stroke-width="0.7"/>
<path d="M34.6,564 H254.6" stroke="#d8d8d8" stroke-opacity="0.6" stroke-width="0.7"/>
<path d="M34.6,590.4 H254.6" stroke="#d8d8d8" stroke-opacity="0.6" stroke-width="0.7"/>
<rect x="34.6" y="514.6" width="50" height="7.7" fill="#000" fill-opacity="0.82"/>
<text class="ct" x="36.5" y="520.5">Lateral process</text>
<rect x="34.6" y="523.1" width="31" height="7.7" fill="#000" fill-opacity="0.82"/>
<text class="ct" x="36.5" y="529">of the C1</text>
<rect x="34.6" y="568.9" width="50" height="7.7" fill="#000" fill-opacity="0.82"/>
<text class="ct" x="36.5" y="574.8">Caudal edge of</text>
<rect x="34.6" y="577.5" width="37" height="7.7" fill="#000" fill-opacity="0.82"/>
<text class="ct" x="36.5" y="583.4">hyoid bone</text>
<rect x="34.6" y="596.3000000000001" width="42" height="7.7" fill="#000" fill-opacity="0.82"/>
<text class="ct" x="36.5" y="602.2">Caudal edge</text>
<rect x="34.6" y="605.0" width="30" height="7.7" fill="#000" fill-opacity="0.82"/>
<text class="ct" x="36.5" y="610.9">of cricoid</text>
<rect x="34.6" y="613.7" width="28.5" height="7.7" fill="#000" fill-opacity="0.82"/>
<text class="ct" x="36.5" y="619.6">cartilage</text>
</g>
<g clip-path="url(#clipF)">
<g transform="translate(263.3,0.5)">
<rect x="20" y="396" width="260" height="264" fill="#000"/>
<g filter="url(#bl0)">
<path d="M86.0,396.0 C85.8,397.5 85.6,401.4 84.7,405.0 C83.8,408.6 81.7,413.1 80.5,417.7 C79.3,422.3 78.2,427.6 77.3,432.5 C76.4,437.4 75.9,442.4 75.2,447.3 C74.5,452.2 73.7,457.2 73.1,462.1 C72.5,467.0 71.9,472.3 71.4,476.9 C70.9,481.5 70.3,485.7 70.2,489.6 C70.1,493.5 70.2,496.7 70.6,500.2 C70.9,503.7 71.7,507.3 72.3,510.8 C72.9,514.3 73.4,517.9 74.3,521.0 C75.2,524.1 76.6,526.5 77.8,529.5 C79.0,532.5 80.0,535.9 81.2,539.0 C82.4,542.1 83.5,544.6 84.7,548.0 C86.0,551.4 87.9,556.1 88.7,559.4 C89.5,562.7 89.8,565.2 89.8,568.0 C89.8,570.8 89.5,573.1 89.0,576.0 C88.5,578.9 87.5,582.4 86.6,585.4 C85.7,588.4 85.0,591.5 83.5,593.8 C82.0,596.1 80.1,597.6 77.3,599.0 C74.5,600.4 70.2,601.4 66.7,602.3 C63.2,603.2 61.5,603.8 56.0,604.5 C50.5,605.2 40.0,606.2 34.0,606.6 C28.0,607.0 22.3,606.9 20.0,607.0 L20,660 L280,660 L280.0,602.5 C275.8,602.5 263.4,602.3 255.0,602.3 C246.6,602.3 236.7,602.7 229.6,602.3 C222.5,601.9 217.5,601.0 212.7,600.0 C207.8,599.0 203.5,597.8 200.5,596.0 C197.5,594.2 196.2,592.2 194.8,589.4 C193.4,586.6 192.3,582.9 191.8,579.0 C191.3,575.1 191.3,570.2 191.8,566.3 C192.3,562.4 193.4,559.2 194.8,555.7 C196.2,552.2 198.0,548.5 200.0,545.0 C202.0,541.5 204.6,538.1 206.6,534.6 C208.6,531.1 210.6,528.0 212.0,524.0 C213.4,520.0 214.2,514.8 214.8,510.8 C215.5,506.8 215.8,503.7 215.9,500.2 C216.0,496.7 215.5,493.5 215.2,489.6 C214.8,485.7 214.3,481.1 213.8,476.9 C213.3,472.7 212.8,469.1 212.3,464.2 C211.8,459.3 211.5,452.9 211.0,447.3 C210.5,441.7 210.1,435.3 209.5,430.4 C208.9,425.5 208.5,421.9 207.4,417.7 C206.3,413.5 204.1,408.6 203.2,405.0 C202.3,401.4 202.2,397.5 202.0,396.0 Z" fill="#7c7c7c"/>
</g>
<g filter="url(#bl1)" fill="none">
<path d="M87.9,405.0 C87.2,407.1 84.9,413.1 83.7,417.7 C82.5,422.3 81.4,427.6 80.5,432.5 C79.6,437.4 79.1,442.4 78.4,447.3 C77.7,452.2 76.9,457.2 76.3,462.1 C75.7,467.0 75.1,472.3 74.6,476.9 C74.1,481.5 73.5,485.7 73.4,489.6 C73.3,493.5 73.7,498.4 73.8,500.2" stroke="#686868" stroke-width="3.2"/>
<path d="M73.2,500.2 C73.5,502.0 74.3,507.3 74.9,510.8 C75.5,514.3 76.0,517.9 76.9,521.0 C77.8,524.1 79.2,526.5 80.4,529.5 C81.5,532.5 82.6,535.9 83.8,539.0 C85.0,542.1 86.0,544.6 87.3,548.0 C88.5,551.4 90.5,556.1 91.3,559.4 C92.1,562.7 92.3,565.2 92.4,568.0 C92.4,570.8 92.1,573.1 91.6,576.0 C91.1,578.9 90.1,582.4 89.2,585.4 C88.3,588.4 87.6,591.5 86.1,593.8 C84.5,596.1 82.7,597.6 79.9,599.0 C77.1,600.4 71.1,601.8 69.3,602.3" stroke="#3c3c3c" stroke-width="3"/>
<path d="M212.7,500.2 C212.6,498.4 212.3,493.5 212.0,489.6 C211.7,485.7 211.1,481.1 210.6,476.9 C210.1,472.7 209.6,469.1 209.1,464.2 C208.6,459.3 208.3,452.9 207.8,447.3 C207.3,441.7 206.9,435.3 206.3,430.4 C205.7,425.5 205.3,421.9 204.2,417.7 C203.2,413.5 200.7,407.1 200.0,405.0" stroke="#686868" stroke-width="3.2"/>
<path d="M209.7,600.0 C207.7,599.3 200.5,597.8 197.5,596.0 C194.5,594.2 193.2,592.2 191.8,589.4 C190.4,586.6 189.3,582.9 188.8,579.0 C188.3,575.1 188.3,570.2 188.8,566.3 C189.3,562.4 190.4,559.2 191.8,555.7 C193.2,552.2 195.0,548.5 197.0,545.0 C199.0,541.5 201.6,538.1 203.6,534.6 C205.6,531.1 207.6,528.0 209.0,524.0 C210.4,520.0 211.2,514.8 211.8,510.8 C212.5,506.8 212.7,502.0 212.9,500.2" stroke="#3c3c3c" stroke-width="3"/>
<path d="M86.6,396.0 C86.4,397.5 86.2,401.4 85.3,405.0 C84.4,408.6 82.3,413.1 81.1,417.7 C79.9,422.3 78.8,427.6 77.9,432.5 C77.0,437.4 76.5,442.4 75.8,447.3 C75.1,452.2 74.3,457.2 73.7,462.1 C73.1,467.0 72.5,472.3 72.0,476.9 C71.5,481.5 70.9,485.7 70.8,489.6 C70.7,493.5 70.8,496.7 71.2,500.2 C71.5,503.7 72.3,507.3 72.9,510.8 C73.5,514.3 74.0,517.9 74.9,521.0 C75.8,524.1 77.2,526.5 78.4,529.5 C79.5,532.5 80.6,535.9 81.8,539.0 C83.0,542.1 84.0,544.6 85.3,548.0 C86.5,551.4 88.5,556.1 89.3,559.4 C90.1,562.7 90.3,565.2 90.4,568.0 C90.4,570.8 90.1,573.1 89.6,576.0 C89.1,578.9 88.1,582.4 87.2,585.4 C86.3,588.4 85.6,591.5 84.1,593.8 C82.5,596.1 80.7,597.6 77.9,599.0 C75.1,600.4 70.8,601.4 67.3,602.3 C63.8,603.2 62.0,603.8 56.6,604.5 C51.2,605.2 40.6,606.2 34.6,606.6 C28.6,607.0 22.9,606.9 20.6,607.0" stroke="#a2a2a2" stroke-width="1.1"/>
<path d="M279.4,602.5 C275.2,602.5 262.8,602.3 254.4,602.3 C246.0,602.3 236.1,602.7 229.0,602.3 C221.9,601.9 216.9,601.0 212.1,600.0 C207.2,599.0 202.9,597.8 199.9,596.0 C196.9,594.2 195.7,592.2 194.2,589.4 C192.8,586.6 191.7,582.9 191.2,579.0 C190.7,575.1 190.7,570.2 191.2,566.3 C191.7,562.4 192.8,559.2 194.2,555.7 C195.6,552.2 197.4,548.5 199.4,545.0 C201.4,541.5 204.0,538.1 206.0,534.6 C208.0,531.1 210.0,528.0 211.4,524.0 C212.8,520.0 213.6,514.8 214.2,510.8 C214.9,506.8 215.2,503.7 215.3,500.2 C215.4,496.7 214.9,493.5 214.6,489.6 C214.2,485.7 213.7,481.1 213.2,476.9 C212.7,472.7 212.2,469.1 211.7,464.2 C211.2,459.3 210.9,452.9 210.4,447.3 C209.9,441.7 209.5,435.3 208.9,430.4 C208.3,425.5 207.9,421.9 206.8,417.7 C205.8,413.5 203.5,408.6 202.6,405.0 C201.7,401.4 201.6,397.5 201.4,396.0" stroke="#a2a2a2" stroke-width="1.1"/>
</g>
<g filter="url(#bl2)">
<path d="M79,486 C84,484 90,486 93,490 L96,520 C95,532 92,540 90,546 C85,536 79,520 77,505 Z" fill="#8a8a8a"/>
<path d="M207,486 C202,484 196,488 193,496 L190,520 C192,532 196,538 200,540 C205,530 210,515 211,500 Z" fill="#8a8a8a"/>
<path d="M100,486 C105,484 110,485 113,488 C112,500 108,512 105,522 L102,522 Z" fill="#5c5c5c"/>
<path d="M176,486 C180,492 184,500 188,504 C186,512 184,518 183,522 C179,512 176,498 176,486 Z" fill="#666"/>
<path d="M104,486 L120,482 L170,482 L186,492 L196,522 L186,560 L187,598 L200,644 L85,644 L100,600 L101,560 L92,522 Z" fill="#868686"/>
<path d="M127,525 L156,525 L158,560 L160,600 L160,644 L124,644 L123,600 L125,560 Z" fill="#a2a2a2"/>
<path d="M131,560 L152,560 L153,600 L130,600 Z" fill="#8c8c8c"/>
<path d="M119,592 C122,588 128,588 130,592 L130,628 C127,632 121,632 118,628 Z" fill="#b0b0b0"/>
<path d="M148,590 C151,586 158,586 160,590 L160,626 C157,630 150,630 148,626 Z" fill="#b0b0b0"/>
<ellipse cx="173.7" cy="604" rx="6" ry="9.5" fill="#b4b4b4"/>
<path d="M183,602 C192,598 204,602 210,608 C208,618 200,624 190,622 C184,618 182,610 183,602 Z" fill="#5a5a5a"/>
<path d="M103,560 C108,580 110,600 104,640 L96,640 C100,610 100,585 97,565 Z" fill="#9a9a9a"/>
<path d="M183,560 C178,580 176,600 182,640 L190,640 C186,610 186,585 189,565 Z" fill="#9a9a9a"/>
<path d="M34,622 C50,614 62,626 74,632 C80,636 82,640 84,644 L34,644 Z" fill="#444"/>
<path d="M40,626 C46,630 50,636 52,644 M62,630 C66,634 68,640 69,644" stroke="#7a7a7a" stroke-width="3" fill="none"/>
<path d="M34,608 L60,606 L70,609 L56,616 L34,616 Z" fill="#555"/>
<path d="M74,606 C82,603 90,606 96,612 C92,622 86,628 80,630 C76,622 72,612 74,606 Z" fill="#909090"/>
<path d="M228,604 L255,604 L255,618 C245,612 235,612 228,608 Z" fill="#707070"/>
<path d="M200,604 C210,610 214,624 206,634 L196,640 C190,630 192,612 200,604 Z" fill="#6a6a6a"/>
<path d="M226,626 C238,622 250,626 256,630 L256,644 L224,644 Z" fill="#4e4e4e"/>
<path d="M76,613 L97,603 L98,637 L72,636 Z" fill="#5c5c5c"/>
<path d="M112,606 L122,604 L123,636 L112,637 Z" fill="#686868"/>
<path d="M180,612 C192,610 208,618 222,627 L214,637 L182,637 Z" fill="#585858"/>
<path d="M86,638 L112,638 L112,646 L86,646 Z" fill="#1c1c1c"/>
<path d="M152,638 L178,638 L178,646 L152,646 Z" fill="#1c1c1c"/>
<path d="M106,628 L122,628 L122,644 L104,644 Z" fill="#505050"/>
<path d="M160,628 L176,630 L178,644 L160,644 Z" fill="#505050"/>
</g>
<path d="M101.0,396.0 C85.8,398.7 97.8,407.0 96.5,412.0 C95.2,417.0 93.8,420.3 93.2,426.2 C92.7,432.1 92.9,441.3 93.2,447.3 C93.5,453.3 94.4,458.6 95.3,462.1 C96.2,465.6 96.9,466.9 98.5,468.5 C100.1,470.1 101.3,471.2 104.8,471.6 C108.3,472.0 115.7,471.5 119.6,470.6 C123.5,469.7 125.6,467.5 128.1,466.3 C130.6,465.1 131.6,464.1 134.4,463.2 C137.2,462.3 141.8,460.8 145.0,461.0 C148.2,461.2 150.3,462.6 153.5,464.2 C156.7,465.8 160.1,469.4 164.0,470.6 C167.9,471.8 172.8,472.3 176.7,471.6 C180.6,470.9 184.1,468.2 187.3,466.3 C190.5,464.4 194.0,462.5 195.8,460.0 C197.6,457.5 197.7,454.3 197.9,451.5 C198.1,448.7 197.4,447.2 196.8,443.0 C196.2,438.8 195.3,431.4 194.5,426.2 C193.7,421.0 193.1,417.0 192.0,412.0 C190.9,407.0 203.2,398.7 188.0,396.0 C172.8,393.3 116.2,393.3 101.0,396.0 Z" fill="#858585" filter="url(#bl1)"/>
<g filter="url(#bl3)"><path d="M133,418 C140,425 150,425 157,418 C162,430 160,445 152,452 C148,448 142,448 138,452 C130,445 128,430 133,418 Z" fill="#747474" fill-opacity="0.7"/></g>
<g filter="url(#bl0)" fill="#a8a8a8"><circle cx="119.6" cy="449" r="0.9"/><circle cx="133.5" cy="457" r="0.9"/><circle cx="152" cy="455" r="0.9"/><circle cx="165" cy="447" r="0.8"/></g>
<g filter="url(#bl2)" opacity="0.35" fill="none">
<path d="M104,415 C112,430 108,450 115,462 M130,410 C128,430 136,445 133,458 M160,410 C163,430 156,445 160,460 M182,415 C178,432 186,448 180,462" stroke="#a0a0a0" stroke-width="3"/>
<path d="M118,412 C120,430 122,445 124,460 M146,408 C145,425 147,440 146,455 M172,412 C170,430 172,445 170,462" stroke="#7e7e7e" stroke-width="3"/>
</g>
<clipPath id="bc1"><path d="M86.0,396.0 C85.8,397.5 85.6,401.4 84.7,405.0 C83.8,408.6 81.7,413.1 80.5,417.7 C79.3,422.3 78.2,427.6 77.3,432.5 C76.4,437.4 75.9,442.4 75.2,447.3 C74.5,452.2 73.7,457.2 73.1,462.1 C72.5,467.0 71.9,472.3 71.4,476.9 C70.9,481.5 70.3,485.7 70.2,489.6 C70.1,493.5 70.2,496.7 70.6,500.2 C70.9,503.7 71.7,507.3 72.3,510.8 C72.9,514.3 73.4,517.9 74.3,521.0 C75.2,524.1 76.6,526.5 77.8,529.5 C79.0,532.5 80.0,535.9 81.2,539.0 C82.4,542.1 83.5,544.6 84.7,548.0 C86.0,551.4 87.9,556.1 88.7,559.4 C89.5,562.7 89.8,565.2 89.8,568.0 C89.8,570.8 89.5,573.1 89.0,576.0 C88.5,578.9 87.5,582.4 86.6,585.4 C85.7,588.4 85.0,591.5 83.5,593.8 C82.0,596.1 80.1,597.6 77.3,599.0 C74.5,600.4 70.2,601.4 66.7,602.3 C63.2,603.2 61.5,603.8 56.0,604.5 C50.5,605.2 40.0,606.2 34.0,606.6 C28.0,607.0 22.3,606.9 20.0,607.0 L20,660 L280,660 L280.0,602.5 C275.8,602.5 263.4,602.3 255.0,602.3 C246.6,602.3 236.7,602.7 229.6,602.3 C222.5,601.9 217.5,601.0 212.7,600.0 C207.8,599.0 203.5,597.8 200.5,596.0 C197.5,594.2 196.2,592.2 194.8,589.4 C193.4,586.6 192.3,582.9 191.8,579.0 C191.3,575.1 191.3,570.2 191.8,566.3 C192.3,562.4 193.4,559.2 194.8,555.7 C196.2,552.2 198.0,548.5 200.0,545.0 C202.0,541.5 204.6,538.1 206.6,534.6 C208.6,531.1 210.6,528.0 212.0,524.0 C213.4,520.0 214.2,514.8 214.8,510.8 C215.5,506.8 215.8,503.7 215.9,500.2 C216.0,496.7 215.5,493.5 215.2,489.6 C214.8,485.7 214.3,481.1 213.8,476.9 C213.3,472.7 212.8,469.1 212.3,464.2 C211.8,459.3 211.5,452.9 211.0,447.3 C210.5,441.7 210.1,435.3 209.5,430.4 C208.9,425.5 208.5,421.9 207.4,417.7 C206.3,413.5 204.1,408.6 203.2,405.0 C202.3,401.4 202.2,397.5 202.0,396.0 Z"/></clipPath>
<g clip-path="url(#bc1)"><rect x="20" y="396" width="260" height="264" filter="url(#grain)" opacity="0.085"/></g>
<g filter="url(#bl0)" fill="#fff">
<path d="M90.2,398.0 C88.0,400.3 89.1,407.3 88.6,412.0 C88.1,416.7 87.4,420.3 87.2,426.2 C87.0,432.1 87.2,441.3 87.5,447.3 C87.8,453.3 88.4,458.2 88.9,462.1 C89.4,466.0 88.8,469.5 90.4,470.6 C92.0,471.7 97.7,469.9 98.5,468.5 C99.3,467.1 96.3,465.6 95.5,462.1 C94.7,458.6 93.7,453.3 93.4,447.3 C93.1,441.3 93.0,432.1 93.6,426.2 C94.2,420.3 95.6,416.7 97.0,412.0 C98.4,407.3 103.1,400.3 102.0,398.0 C100.9,395.7 92.4,395.7 90.2,398.0 Z"/>
<path d="M187.5,398.0 C186.6,400.3 190.4,407.3 191.5,412.0 C192.6,416.7 193.2,421.0 194.0,426.2 C194.8,431.4 195.5,437.7 196.3,443.0 C197.1,448.3 198.2,454.1 198.8,457.9 C199.4,461.7 199.1,464.5 200.0,466.0 C200.9,467.5 203.9,468.4 204.5,467.0 C205.1,465.6 203.8,461.9 203.4,457.9 C203.0,453.9 202.6,448.3 202.1,443.0 C201.6,437.7 200.8,431.4 200.2,426.2 C199.6,421.0 199.0,416.7 198.5,412.0 C198.0,407.3 198.8,400.3 197.0,398.0 C195.2,395.7 188.4,395.7 187.5,398.0 Z"/>
<path d="M81.1,474.0 C81.1,472.6 80.8,472.2 82.0,471.8 C83.2,471.4 85.3,471.9 88.0,471.5 C90.7,471.1 95.0,469.3 98.0,469.5 C101.0,469.7 103.3,471.1 106.0,472.5 C108.7,473.9 113.1,476.3 114.3,478.0 C115.5,479.7 114.5,481.7 113.0,482.5 C111.5,483.3 107.7,483.2 105.0,483.0 C102.3,482.8 99.5,481.6 97.0,481.5 C94.5,481.4 92.0,482.2 90.0,482.5 C88.0,482.8 86.3,483.7 85.0,483.3 C83.7,482.9 82.7,481.6 82.0,480.0 C81.3,478.4 81.1,475.4 81.1,474.0 Z"/>
<path d="M92.0,483.5 C93.1,480.8 98.5,480.4 100.2,483.5 C101.9,486.6 101.7,497.2 102.3,502.0 C102.9,506.8 103.5,508.3 103.7,512.0 C104.0,515.7 104.1,520.8 103.8,524.0 C103.5,527.2 102.8,529.2 102.0,531.0 C101.2,532.8 100.2,535.3 99.3,535.0 C98.4,534.7 97.4,532.8 96.8,529.0 C96.2,525.2 96.1,516.8 95.6,512.0 C95.1,507.2 94.2,504.8 93.6,500.0 C93.0,495.2 90.9,486.2 92.0,483.5 Z"/>
<path d="M179.0,474.5 C179.4,473.1 180.3,470.8 182.0,469.8 C183.7,468.8 186.8,469.8 189.4,468.5 C192.1,467.2 195.4,462.1 197.9,462.1 C200.4,462.1 202.8,466.4 204.2,468.5 C205.6,470.6 207.0,473.2 206.3,474.8 C205.6,476.4 201.8,476.6 200.0,478.0 C198.2,479.4 197.4,480.7 195.8,483.3 C194.2,485.9 191.9,491.4 190.5,493.9 C189.1,496.3 188.4,498.7 187.3,498.0 C186.2,497.3 185.1,492.2 184.1,489.6 C183.1,487.0 182.3,484.1 181.5,482.2 C180.7,480.3 179.9,479.3 179.5,478.0 C179.1,476.7 178.6,475.9 179.0,474.5 Z"/>
<path d="M112,476 C122,470 130,468 136,470 L136,480 C128,480 120,482 114,483 Z" fill="#d6d6d6"/>
<path d="M155,470 C162,470 170,473 176,478 L172,484 C166,482 160,481 155,481 Z" fill="#d6d6d6"/>
<ellipse cx="61" cy="616" rx="9" ry="7" transform="rotate(15 61 616)"/>
<path d="M211,612 C211,605 218,603 224,606 C228,609 229,613 233,616 C237,618 240,622 238,624 C233,623 230,620 226,620 C220,622 212,620 211,612 Z"/>
<path d="M177,629 C185,625 205,625 214,628 C216,632 212,636 200,636 C190,637 180,636 177,633 Z" fill="#f4f4f4"/>
<path d="M133,641 C136,639 140,639 142,642 L142,646 L133,646 Z" fill="#eee"/>
</g>
<ellipse cx="193" cy="467.5" rx="1.3" ry="2" fill="#111"/>
<path d="M133.8,466.5 C133.8,463.5 137.5,463 139.5,464.5 C140,461.5 144,461 147,461.3 C150,461.3 152,463 152,466 C154,469 153.8,472 152.8,474 C153.3,477.5 151,480.2 146,480.2 C141,480.5 137.3,478 137.5,473.5 C137.3,472 137.5,471 138,470.3 C135.5,470.3 133.8,468.8 133.8,466.5 Z" fill="#000" filter="url(#bl0)"/>
<circle cx="138.3" cy="463.2" r="1.1" fill="#f4f4f4" filter="url(#bl0)"/>
<path d="M137.5,530 C139,527 141,527 142,531 C142.5,540 141.5,550 140.5,557 C139.5,558 138.5,557 138,554 C136.5,548 136.5,538 137.5,530 Z" fill="#0a0a0a" filter="url(#bl1)"/>
<path d="M134,603 C136,600 142,600 144,603 C145,610 145,621 143,627 C141,629.5 137,629.5 135,627 C133,619 133,609 134,603 Z" fill="#050505" filter="url(#bl0)"/>
<g filter="url(#bl0)" fill="none">
<path d="M124.5,566 C125.5,575 125,585 124,592" stroke="#f0f0f0" stroke-width="1.6"/>
<path d="M157,575 C156,585 156,595 157,602" stroke="#e0e0e0" stroke-width="1.6"/>
<path d="M126.5,602 C127.5,607 127.5,611 127,615" stroke="#e8e8e8" stroke-width="1.8"/>
<path d="M76.5,534 L78.5,540" stroke="#eee" stroke-width="1.2"/>
</g>
</g>
<path d="M409.5,471.8 C410.5,471.5 413.9,470.7 415.3,469.9 C416.7,469.1 416.8,467.4 418.1,467.0 C419.4,466.6 421.1,466.8 422.9,467.5 C424.7,468.2 426.9,469.9 428.7,471.5 C430.5,473.1 432.0,474.8 433.6,477.0 C435.2,479.2 436.8,481.9 438.3,485.0 C439.8,488.1 441.5,491.8 442.8,495.5 C444.1,499.2 445.1,504.2 446.3,507.5 C447.5,510.8 449.6,513.6 449.8,515.5 C450.0,517.4 446.7,517.1 447.7,518.8 C448.7,520.5 453.9,522.9 455.8,525.6 C457.7,528.3 458.7,531.9 459.0,535.0 C459.3,538.1 458.7,541.5 457.7,544.4 C456.7,547.3 454.3,550.0 453.0,552.5 C451.7,555.0 450.6,556.7 449.8,559.2 C449.0,561.7 448.4,564.7 448.0,567.3 C447.6,569.9 447.8,573.7 447.7,575.0 L447.7,583.7 L426.2,584 L425.6,567.3 C425.5,565.0 425.2,558.3 424.8,553.8 C424.4,549.3 424.2,544.4 423.5,540.4 C422.8,536.4 422.2,532.1 420.8,529.6 C419.4,527.1 418.1,526.4 415.4,525.6 C412.7,524.8 408.1,524.8 404.5,524.8 C400.9,524.8 396.6,524.8 393.8,525.6 C391.0,526.4 389.3,527.1 387.9,529.6 C386.5,532.1 385.8,536.4 385.2,540.4 C384.6,544.4 384.5,549.3 384.4,553.8 C384.3,558.3 384.4,565.0 384.4,567.3 L384.4,588.9 L361.5,588.9 L361.5,567.3 C361.7,566.2 363.1,562.9 362.9,560.6 C362.7,558.4 361.0,556.3 360.2,553.8 C359.4,551.3 358.3,548.5 358.3,545.8 C358.3,543.1 359.0,540.4 360.2,537.7 C361.4,535.0 364.2,531.9 365.6,529.6 C367.0,527.4 367.5,526.6 368.3,524.2 C369.1,521.9 369.5,518.9 370.3,515.5 C371.1,512.1 372.2,507.8 373.1,504.0 C374.0,500.2 374.9,496.1 375.6,492.5 C376.4,488.9 376.6,485.4 377.6,482.5 C378.6,479.6 379.8,477.1 381.6,475.0 C383.4,472.9 386.1,471.2 388.3,470.0 C390.5,468.8 393.2,467.7 395.0,467.5 C396.8,467.3 397.8,468.5 398.9,469.0 C400.0,469.5 400.0,470.0 401.8,470.5 C403.6,471.0 408.2,471.6 409.5,471.8 Z" fill="#34cc34" fill-opacity="0.4" stroke="#4fdc4f" stroke-width="0.9" stroke-opacity="0.85"/>
<g transform="translate(263.3,0.5)">
<path d="M120,476 C126,471 132,468.5 137,470.5 C137,477 142,481.5 148,481 C152.5,480 154,474 155,468 C161,468 167,473 171.5,481 C166,485 158,487.5 149,488 C139,488 128,487 118,483 Z" fill="#c8f5c8" fill-opacity="0.5" filter="url(#bl1)"/>
<ellipse cx="140.6" cy="507.9" rx="2" ry="4.1" fill="#d6ffd6"/>
<ellipse cx="173.5" cy="507.9" rx="1.9" ry="4.1" fill="#d6ffd6"/>
<g filter="url(#bl2)" fill="none" stroke="#1e5a1e" stroke-opacity="0.32">
<path d="M122,488 C120,500 118,512 114,524" stroke-width="5"/>
<path d="M150,490 C152,500 152,510 150,520" stroke-width="6"/>
<path d="M166,486 C170,498 172,506 176,514" stroke-width="4"/>
<path d="M132,490 C131,500 131,510 130,520" stroke-width="3"/>
</g>
</g>
<g fill="none" stroke="#1f8f2f" stroke-width="0.8" stroke-opacity="0.8">
<path d="M366.5,531 C361,536 359.5,545 362,552 C364,557 367,560 369,562"/>
<path d="M449,521 C455,526 457,535 455.5,543 C453.5,550 450,555 447,559"/>
</g>
<g transform="translate(263.3,0.5)">
<g fill="#c98bc9" fill-opacity="0.92">
<ellipse cx="107.5" cy="541.5" rx="6.6" ry="9"/>
<ellipse cx="110" cy="556.5" rx="5.2" ry="5.2"/>
<path d="M179,520 C183,519 186.5,522 187.8,527 C188.6,532 188,537 185.5,540.5 C183,541.5 180,540 178.5,537 Z"/>
<path d="M166,537.5 C170,536.5 177,536.5 179.5,538.5 C180,546 177,553 173.5,557.5 C170.5,557 166.5,548 166,537.5 Z"/>
</g>
<path d="M162.0,520.8 C162.2,519.7 163.7,516.4 164.3,515.7 C164.9,515.0 167.1,513.1 168.0,512.9 C168.9,512.7 172.7,513.5 173.6,513.8 C174.5,514.1 176.7,515.5 177.3,516.2 C177.9,516.9 179.4,519.8 179.7,520.8 C180.0,521.8 180.2,526.2 180.1,527.3 C180.0,528.4 178.7,532.0 178.3,532.9 C177.9,533.8 176.9,536.7 175.9,537.1 C174.9,537.5 168.2,537.5 167.1,537.1 C166.0,536.7 164.8,533.8 164.3,532.9 C163.8,532.0 162.2,528.4 162.0,527.3 C161.8,526.2 161.8,521.9 162.0,520.8 Z" fill="#f0382a" stroke="#e03020" stroke-width="0.4"/>
<rect x="102.7" y="540" width="9.6" height="3.8" fill="#c400c4"/>
<text x="107.5" y="543.1" text-anchor="middle" class="b" font-size="3.4" fill="#4a004a">OLN</text>
<rect x="105.6" y="555.4" width="8.6" height="3.8" fill="#c400c4"/>
<text x="109.89999999999999" y="558.5" text-anchor="middle" class="b" font-size="3.4" fill="#4a004a">OLN</text>
<rect x="178.7" y="532.7" width="9.6" height="3.8" fill="#c400c4"/>
<text x="183.5" y="535.8000000000001" text-anchor="middle" class="b" font-size="3.4" fill="#4a004a">OLN</text>
<rect x="168" y="543.3" width="9.7" height="3.8" fill="#c400c4"/>
<text x="172.85" y="546.4" text-anchor="middle" class="b" font-size="3.4" fill="#4a004a">OLN</text>
<text x="169.4" y="525.3" text-anchor="middle" class="b" font-size="4.6" fill="#5a0000">Re-LN</text>
</g>
<path d="M364.4,564.8 H358.8 V588.2 H364.4" fill="none" stroke="#f2e41e" stroke-width="1.4"/>
<path d="M446.2,559 H451.4 V583.3 H446.2" fill="none" stroke="#f2e41e" stroke-width="1.4"/>
<rect x="326.5" y="570.9" width="24" height="11.3" fill="#f5ee1c"/>
<text x="338.5" y="580.3" text-anchor="middle" class="b" font-size="10.5" fill="#000">3cm</text>
<rect x="464.9" y="566.7" width="23.2" height="11.3" fill="#f5ee1c"/>
<text x="476.5" y="576.1" text-anchor="middle" class="b" font-size="10.5" fill="#000">3cm</text>
</g>
</svg></body></html>
